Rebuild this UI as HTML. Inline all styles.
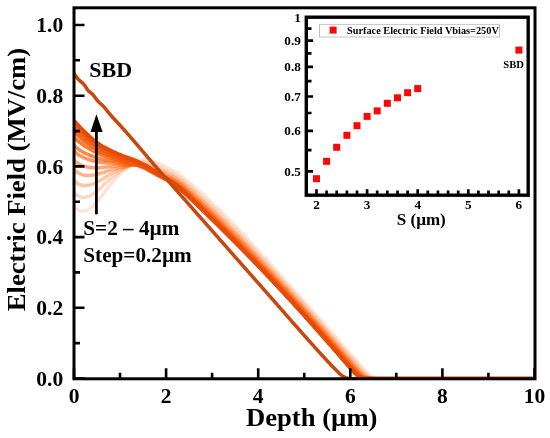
<!DOCTYPE html>
<html><head><meta charset="utf-8"><title>Electric Field vs Depth</title>
<style>html,body{margin:0;padding:0;background:#fff}svg{display:block}</style></head>
<body>
<svg width="550" height="438" viewBox="0 0 550 438">
<rect width="550" height="438" fill="#fff"/>
<defs><clipPath id="plotclip"><rect x="73" y="0" width="463" height="379.5"/></clipPath></defs>
<g fill="none" stroke-width="3.5" stroke-linejoin="round" stroke-linecap="butt" clip-path="url(#plotclip)">
<path d="M74.0,206.2 L75.0,207.3 L76.0,208.2 L77.0,209.1 L78.0,209.7 L79.0,210.3 L80.0,210.7 L81.0,211.0 L82.0,211.1 L83.0,211.1 L84.0,211.1 L85.0,210.9 L86.0,210.6 L87.0,210.1 L88.0,209.6 L89.0,209.0 L90.0,208.4 L91.0,207.6 L92.0,206.8 L93.0,206.0 L94.0,205.0 L95.0,204.0 L96.0,203.0 L97.0,201.9 L98.0,200.7 L99.0,199.5 L100.0,198.3 L101.0,197.0 L102.0,195.7 L103.0,194.4 L104.0,193.1 L105.0,191.7 L106.0,190.4 L107.0,189.1 L108.0,187.8 L109.0,186.5 L110.0,185.3 L111.0,184.1 L112.0,182.8 L113.0,181.6 L114.0,180.5 L115.0,179.3 L116.0,178.2 L117.0,177.1 L118.0,176.0 L119.0,175.0 L120.0,173.9 L121.0,173.0 L122.0,172.0 L123.0,171.1 L124.0,170.2 L125.0,169.4 L126.0,168.6 L127.0,167.8 L128.0,167.0 L129.0,166.2 L130.0,165.4 L131.0,164.7 L132.0,164.0 L133.0,163.3 L134.0,162.7 L135.0,162.1 L136.0,161.6 L137.0,161.2 L138.0,160.9 L139.0,160.5 L140.0,160.2 L141.0,160.0 L142.0,159.8 L143.0,159.7 L144.0,159.6 L145.0,159.6 L146.0,159.7 L147.0,159.8 L148.0,160.0 L149.0,160.2 L150.0,160.5 L151.0,160.7 L152.0,161.0 L153.0,161.4 L154.0,161.7 L155.0,162.1 L156.0,162.5 L157.0,162.9 L158.0,163.3 L159.0,163.7 L160.0,164.2 L161.0,164.6 L162.0,165.1 L163.0,165.6 L164.0,166.0 L165.0,166.5 L166.0,167.0 L167.0,167.5 L168.0,168.1 L169.0,168.6 L170.0,169.1 L171.0,169.7 L172.0,170.2 L173.0,170.8 L174.0,171.4 L175.0,172.0 L176.0,172.6 L177.0,173.2 L178.0,173.8 L179.0,174.5 L180.0,175.2 L181.0,175.9 L182.0,176.7 L183.0,177.5 L184.0,178.3 L185.0,179.1 L186.0,179.9 L187.0,180.7 L188.0,181.6 L189.0,182.4 L190.0,183.2 L191.0,184.0 L192.0,184.9 L193.0,185.7 L194.0,186.6 L195.0,187.5 L196.0,188.3 L197.0,189.2 L198.0,190.0 L199.0,190.9 L200.0,191.7 L201.0,192.6 L202.0,193.5 L203.0,194.3 L204.0,195.2 L205.0,196.1 L206.0,197.0 L207.0,198.0 L208.0,198.9 L209.0,199.8 L210.0,200.8 L211.0,201.8 L212.0,202.7 L213.0,203.7 L214.0,204.7 L215.0,205.7 L216.0,206.7 L217.0,207.6 L218.0,208.6 L219.0,209.6 L220.0,210.6 L221.0,211.6 L222.0,212.6 L223.0,213.6 L224.0,214.6 L225.0,215.6 L226.0,216.5 L227.0,217.5 L228.0,218.5 L229.0,219.5 L230.0,220.5 L231.0,221.5 L232.0,222.5 L233.0,223.6 L234.0,224.6 L235.0,225.6 L236.0,226.7 L237.0,227.7 L238.0,228.8 L239.0,229.8 L240.0,230.9 L241.0,232.0 L242.0,233.1 L243.0,234.1 L244.0,235.2 L245.0,236.3 L246.0,237.4 L247.0,238.5 L248.0,239.6 L249.0,240.7 L250.0,241.8 L251.0,242.9 L252.0,244.0 L253.0,245.1 L254.0,246.2 L255.0,247.3 L256.0,248.3 L257.0,249.4 L258.0,250.5 L259.0,251.6 L260.0,252.7 L261.0,253.8 L262.0,254.9 L263.0,256.0 L264.0,257.0 L265.0,258.1 L266.0,259.2 L267.0,260.3 L268.0,261.4 L269.0,262.5 L270.0,263.6 L271.0,264.7 L272.0,265.8 L273.0,266.9 L274.0,268.0 L275.0,269.1 L276.0,270.3 L277.0,271.4 L278.0,272.5 L279.0,273.6 L280.0,274.7 L281.0,275.8 L282.0,276.9 L283.0,278.0 L284.0,279.1 L285.0,280.2 L286.0,281.4 L287.0,282.5 L288.0,283.6 L289.0,284.7 L290.0,285.8 L291.0,286.9 L292.0,288.0 L293.0,289.1 L294.0,290.3 L295.0,291.4 L296.0,292.5 L297.0,293.6 L298.0,294.7 L299.0,295.8 L300.0,296.9 L301.0,298.0 L302.0,299.1 L303.0,300.2 L304.0,301.3 L305.0,302.4 L306.0,303.6 L307.0,304.7 L308.0,305.8 L309.0,306.9 L310.0,308.0 L311.0,309.1 L312.0,310.3 L313.0,311.4 L314.0,312.5 L315.0,313.6 L316.0,314.7 L317.0,315.9 L318.0,317.0 L319.0,318.1 L320.0,319.2 L321.0,320.4 L322.0,321.5 L323.0,322.6 L324.0,323.8 L325.0,324.9 L326.0,326.0 L327.0,327.2 L328.0,328.3 L329.0,329.4 L330.0,330.6 L331.0,331.7 L332.0,332.8 L333.0,334.0 L334.0,335.1 L335.0,336.3 L336.0,337.4 L337.0,338.6 L338.0,339.7 L339.0,340.8 L340.0,342.0 L341.0,343.1 L342.0,344.3 L343.0,345.4 L344.0,346.6 L345.0,347.7 L346.0,348.8 L347.0,350.0 L348.0,351.1 L349.0,352.2 L350.0,353.4 L351.0,354.5 L352.0,355.6 L353.0,356.8 L354.0,357.9 L355.0,359.0 L356.0,360.2 L357.0,361.3 L358.0,362.4 L359.0,363.6 L360.0,364.7 L361.0,365.8 L362.0,367.0 L363.0,368.1 L364.0,369.2 L365.0,370.4 L366.0,371.4 L367.0,372.5 L368.0,373.5 L369.0,374.5 L370.0,375.3 L371.0,376.1 L372.0,376.8 L373.0,377.3 L374.0,377.7 L375.0,378.0 L376.0,378.3 L377.0,378.4 L378.0,378.6 L379.0,378.6 L380.0,378.7 L381.0,378.7 L382.0,378.7 L383.0,378.8 L384.0,378.8 L385.0,378.8 L386.0,378.8 L387.0,378.8 L388.0,378.8 L389.0,378.8 L390.0,378.8 L391.0,378.8 L392.0,378.8 L393.0,378.8 L394.0,378.8 L395.0,378.8 L396.0,378.8 L397.0,378.8 L398.0,378.8 L399.0,378.8 L400.0,378.8 L401.0,378.8 L402.0,378.8 L403.0,378.8 L404.0,378.8 L405.0,378.8 L406.0,378.8 L407.0,378.8 L408.0,378.8 L409.0,378.8 L410.0,378.8 L411.0,378.8 L412.0,378.8 L413.0,378.8 L414.0,378.8 L415.0,378.8 L416.0,378.8 L417.0,378.8 L418.0,378.8 L419.0,378.8 L420.0,378.8 L421.0,378.8 L422.0,378.8 L423.0,378.8 L424.0,378.8 L425.0,378.8 L426.0,378.8 L427.0,378.8 L428.0,378.8 L429.0,378.8 L430.0,378.8 L431.0,378.8 L432.0,378.8 L433.0,378.8 L434.0,378.8 L435.0,378.8 L436.0,378.8 L437.0,378.8 L438.0,378.8 L439.0,378.8 L440.0,378.8 L441.0,378.8 L442.0,378.8 L443.0,378.8 L444.0,378.8 L445.0,378.8 L446.0,378.8 L447.0,378.8 L448.0,378.8 L449.0,378.8 L450.0,378.8 L451.0,378.8 L452.0,378.8 L453.0,378.8 L454.0,378.8 L455.0,378.8 L456.0,378.8 L457.0,378.8 L458.0,378.8 L459.0,378.8 L460.0,378.8 L461.0,378.8 L462.0,378.8 L463.0,378.8 L464.0,378.8 L465.0,378.8 L466.0,378.8 L467.0,378.8 L468.0,378.8 L469.0,378.8 L470.0,378.8 L471.0,378.8 L472.0,378.8 L473.0,378.8 L474.0,378.8 L475.0,378.8 L476.0,378.8 L477.0,378.8 L478.0,378.8 L479.0,378.8 L480.0,378.8 L481.0,378.8 L482.0,378.8 L483.0,378.8 L484.0,378.8 L485.0,378.8 L486.0,378.8 L487.0,378.8 L488.0,378.8 L489.0,378.8 L490.0,378.8 L491.0,378.8 L492.0,378.8 L493.0,378.8 L494.0,378.8 L495.0,378.8 L496.0,378.8 L497.0,378.8 L498.0,378.8 L499.0,378.8 L500.0,378.8 L501.0,378.8 L502.0,378.8 L503.0,378.8 L504.0,378.8 L505.0,378.8 L506.0,378.8 L507.0,378.8 L508.0,378.8 L509.0,378.8 L510.0,378.8 L511.0,378.8 L512.0,378.8 L513.0,378.8 L514.0,378.8 L515.0,378.8 L516.0,378.8 L517.0,378.8 L518.0,378.8 L519.0,378.8 L520.0,378.8 L521.0,378.8 L522.0,378.8 L523.0,378.8 L524.0,378.8 L525.0,378.8 L526.0,378.8 L527.0,378.8 L528.0,378.8 L529.0,378.8 L530.0,378.8 L531.0,378.8 L532.0,378.8 L533.0,378.8 L534.0,378.8 L535.0,378.8" stroke="#fd5a00" stroke-opacity="0.16"/>
<path d="M74.0,192.3 L75.0,193.4 L76.0,194.3 L77.0,195.1 L78.0,195.8 L79.0,196.3 L80.0,196.7 L81.0,197.1 L82.0,197.3 L83.0,197.4 L84.0,197.4 L85.0,197.3 L86.0,197.1 L87.0,196.8 L88.0,196.5 L89.0,196.1 L90.0,195.7 L91.0,195.2 L92.0,194.6 L93.0,194.0 L94.0,193.3 L95.0,192.7 L96.0,191.9 L97.0,191.1 L98.0,190.3 L99.0,189.5 L100.0,188.6 L101.0,187.7 L102.0,186.7 L103.0,185.8 L104.0,184.8 L105.0,183.9 L106.0,182.9 L107.0,182.0 L108.0,181.1 L109.0,180.2 L110.0,179.3 L111.0,178.4 L112.0,177.6 L113.0,176.7 L114.0,175.9 L115.0,175.1 L116.0,174.3 L117.0,173.5 L118.0,172.8 L119.0,172.1 L120.0,171.4 L121.0,170.7 L122.0,170.0 L123.0,169.4 L124.0,168.8 L125.0,168.2 L126.0,167.7 L127.0,167.1 L128.0,166.6 L129.0,166.0 L130.0,165.5 L131.0,165.0 L132.0,164.5 L133.0,164.0 L134.0,163.6 L135.0,163.3 L136.0,163.0 L137.0,162.7 L138.0,162.5 L139.0,162.3 L140.0,162.2 L141.0,162.1 L142.0,162.0 L143.0,162.0 L144.0,162.1 L145.0,162.2 L146.0,162.4 L147.0,162.6 L148.0,162.9 L149.0,163.1 L150.0,163.4 L151.0,163.8 L152.0,164.1 L153.0,164.5 L154.0,164.9 L155.0,165.3 L156.0,165.7 L157.0,166.1 L158.0,166.5 L159.0,167.0 L160.0,167.4 L161.0,167.9 L162.0,168.3 L163.0,168.8 L164.0,169.3 L165.0,169.7 L166.0,170.2 L167.0,170.7 L168.0,171.2 L169.0,171.8 L170.0,172.3 L171.0,172.8 L172.0,173.4 L173.0,174.0 L174.0,174.5 L175.0,175.1 L176.0,175.7 L177.0,176.4 L178.0,177.0 L179.0,177.7 L180.0,178.4 L181.0,179.2 L182.0,179.9 L183.0,180.7 L184.0,181.6 L185.0,182.4 L186.0,183.3 L187.0,184.1 L188.0,185.0 L189.0,185.8 L190.0,186.7 L191.0,187.5 L192.0,188.4 L193.0,189.3 L194.0,190.2 L195.0,191.0 L196.0,191.9 L197.0,192.8 L198.0,193.7 L199.0,194.6 L200.0,195.4 L201.0,196.3 L202.0,197.2 L203.0,198.1 L204.0,199.0 L205.0,199.9 L206.0,200.9 L207.0,201.8 L208.0,202.7 L209.0,203.7 L210.0,204.7 L211.0,205.6 L212.0,206.6 L213.0,207.6 L214.0,208.6 L215.0,209.5 L216.0,210.5 L217.0,211.5 L218.0,212.5 L219.0,213.5 L220.0,214.5 L221.0,215.4 L222.0,216.4 L223.0,217.4 L224.0,218.4 L225.0,219.4 L226.0,220.4 L227.0,221.4 L228.0,222.4 L229.0,223.4 L230.0,224.4 L231.0,225.4 L232.0,226.4 L233.0,227.4 L234.0,228.4 L235.0,229.5 L236.0,230.5 L237.0,231.5 L238.0,232.6 L239.0,233.6 L240.0,234.7 L241.0,235.7 L242.0,236.8 L243.0,237.9 L244.0,238.9 L245.0,240.0 L246.0,241.1 L247.0,242.2 L248.0,243.2 L249.0,244.3 L250.0,245.4 L251.0,246.5 L252.0,247.6 L253.0,248.6 L254.0,249.7 L255.0,250.8 L256.0,251.9 L257.0,253.0 L258.0,254.1 L259.0,255.1 L260.0,256.2 L261.0,257.3 L262.0,258.4 L263.0,259.4 L264.0,260.5 L265.0,261.6 L266.0,262.7 L267.0,263.8 L268.0,264.9 L269.0,265.9 L270.0,267.0 L271.0,268.1 L272.0,269.2 L273.0,270.3 L274.0,271.4 L275.0,272.5 L276.0,273.6 L277.0,274.7 L278.0,275.8 L279.0,276.9 L280.0,278.0 L281.0,279.1 L282.0,280.2 L283.0,281.3 L284.0,282.4 L285.0,283.5 L286.0,284.6 L287.0,285.7 L288.0,286.8 L289.0,288.0 L290.0,289.1 L291.0,290.2 L292.0,291.3 L293.0,292.4 L294.0,293.5 L295.0,294.6 L296.0,295.7 L297.0,296.8 L298.0,297.9 L299.0,299.0 L300.0,300.1 L301.0,301.2 L302.0,302.3 L303.0,303.4 L304.0,304.6 L305.0,305.7 L306.0,306.8 L307.0,307.9 L308.0,309.0 L309.0,310.1 L310.0,311.2 L311.0,312.4 L312.0,313.5 L313.0,314.6 L314.0,315.7 L315.0,316.9 L316.0,318.0 L317.0,319.1 L318.0,320.2 L319.0,321.4 L320.0,322.5 L321.0,323.6 L322.0,324.7 L323.0,325.9 L324.0,327.0 L325.0,328.1 L326.0,329.3 L327.0,330.4 L328.0,331.5 L329.0,332.7 L330.0,333.8 L331.0,335.0 L332.0,336.1 L333.0,337.2 L334.0,338.4 L335.0,339.5 L336.0,340.7 L337.0,341.8 L338.0,343.0 L339.0,344.1 L340.0,345.3 L341.0,346.4 L342.0,347.6 L343.0,348.7 L344.0,349.9 L345.0,351.0 L346.0,352.2 L347.0,353.3 L348.0,354.4 L349.0,355.6 L350.0,356.7 L351.0,357.9 L352.0,359.0 L353.0,360.1 L354.0,361.3 L355.0,362.4 L356.0,363.6 L357.0,364.7 L358.0,365.8 L359.0,367.0 L360.0,368.1 L361.0,369.2 L362.0,370.3 L363.0,371.4 L364.0,372.5 L365.0,373.5 L366.0,374.4 L367.0,375.3 L368.0,376.1 L369.0,376.7 L370.0,377.3 L371.0,377.7 L372.0,378.0 L373.0,378.2 L374.0,378.4 L375.0,378.5 L376.0,378.6 L377.0,378.7 L378.0,378.7 L379.0,378.7 L380.0,378.8 L381.0,378.8 L382.0,378.8 L383.0,378.8 L384.0,378.8 L385.0,378.8 L386.0,378.8 L387.0,378.8 L388.0,378.8 L389.0,378.8 L390.0,378.8 L391.0,378.8 L392.0,378.8 L393.0,378.8 L394.0,378.8 L395.0,378.8 L396.0,378.8 L397.0,378.8 L398.0,378.8 L399.0,378.8 L400.0,378.8 L401.0,378.8 L402.0,378.8 L403.0,378.8 L404.0,378.8 L405.0,378.8 L406.0,378.8 L407.0,378.8 L408.0,378.8 L409.0,378.8 L410.0,378.8 L411.0,378.8 L412.0,378.8 L413.0,378.8 L414.0,378.8 L415.0,378.8 L416.0,378.8 L417.0,378.8 L418.0,378.8 L419.0,378.8 L420.0,378.8 L421.0,378.8 L422.0,378.8 L423.0,378.8 L424.0,378.8 L425.0,378.8 L426.0,378.8 L427.0,378.8 L428.0,378.8 L429.0,378.8 L430.0,378.8 L431.0,378.8 L432.0,378.8 L433.0,378.8 L434.0,378.8 L435.0,378.8 L436.0,378.8 L437.0,378.8 L438.0,378.8 L439.0,378.8 L440.0,378.8 L441.0,378.8 L442.0,378.8 L443.0,378.8 L444.0,378.8 L445.0,378.8 L446.0,378.8 L447.0,378.8 L448.0,378.8 L449.0,378.8 L450.0,378.8 L451.0,378.8 L452.0,378.8 L453.0,378.8 L454.0,378.8 L455.0,378.8 L456.0,378.8 L457.0,378.8 L458.0,378.8 L459.0,378.8 L460.0,378.8 L461.0,378.8 L462.0,378.8 L463.0,378.8 L464.0,378.8 L465.0,378.8 L466.0,378.8 L467.0,378.8 L468.0,378.8 L469.0,378.8 L470.0,378.8 L471.0,378.8 L472.0,378.8 L473.0,378.8 L474.0,378.8 L475.0,378.8 L476.0,378.8 L477.0,378.8 L478.0,378.8 L479.0,378.8 L480.0,378.8 L481.0,378.8 L482.0,378.8 L483.0,378.8 L484.0,378.8 L485.0,378.8 L486.0,378.8 L487.0,378.8 L488.0,378.8 L489.0,378.8 L490.0,378.8 L491.0,378.8 L492.0,378.8 L493.0,378.8 L494.0,378.8 L495.0,378.8 L496.0,378.8 L497.0,378.8 L498.0,378.8 L499.0,378.8 L500.0,378.8 L501.0,378.8 L502.0,378.8 L503.0,378.8 L504.0,378.8 L505.0,378.8 L506.0,378.8 L507.0,378.8 L508.0,378.8 L509.0,378.8 L510.0,378.8 L511.0,378.8 L512.0,378.8 L513.0,378.8 L514.0,378.8 L515.0,378.8 L516.0,378.8 L517.0,378.8 L518.0,378.8 L519.0,378.8 L520.0,378.8 L521.0,378.8 L522.0,378.8 L523.0,378.8 L524.0,378.8 L525.0,378.8 L526.0,378.8 L527.0,378.8 L528.0,378.8 L529.0,378.8 L530.0,378.8 L531.0,378.8 L532.0,378.8 L533.0,378.8 L534.0,378.8 L535.0,378.8" stroke="#fd5a00" stroke-opacity="0.25"/>
<path d="M74.0,180.3 L75.0,181.4 L76.0,182.3 L77.0,183.0 L78.0,183.7 L79.0,184.3 L80.0,184.7 L81.0,185.1 L82.0,185.3 L83.0,185.5 L84.0,185.6 L85.0,185.7 L86.0,185.6 L87.0,185.5 L88.0,185.3 L89.0,185.1 L90.0,184.9 L91.0,184.6 L92.0,184.3 L93.0,183.9 L94.0,183.5 L95.0,183.1 L96.0,182.6 L97.0,182.2 L98.0,181.6 L99.0,181.1 L100.0,180.5 L101.0,179.9 L102.0,179.3 L103.0,178.7 L104.0,178.0 L105.0,177.4 L106.0,176.8 L107.0,176.2 L108.0,175.6 L109.0,175.0 L110.0,174.4 L111.0,173.8 L112.0,173.3 L113.0,172.7 L114.0,172.2 L115.0,171.6 L116.0,171.1 L117.0,170.6 L118.0,170.2 L119.0,169.7 L120.0,169.3 L121.0,168.8 L122.0,168.4 L123.0,168.0 L124.0,167.6 L125.0,167.2 L126.0,166.9 L127.0,166.5 L128.0,166.2 L129.0,165.8 L130.0,165.5 L131.0,165.2 L132.0,164.9 L133.0,164.6 L134.0,164.4 L135.0,164.2 L136.0,164.0 L137.0,163.9 L138.0,163.8 L139.0,163.8 L140.0,163.8 L141.0,163.8 L142.0,163.9 L143.0,164.0 L144.0,164.1 L145.0,164.4 L146.0,164.6 L147.0,164.9 L148.0,165.2 L149.0,165.5 L150.0,165.9 L151.0,166.3 L152.0,166.6 L153.0,167.0 L154.0,167.4 L155.0,167.9 L156.0,168.3 L157.0,168.7 L158.0,169.2 L159.0,169.6 L160.0,170.1 L161.0,170.5 L162.0,171.0 L163.0,171.4 L164.0,171.9 L165.0,172.3 L166.0,172.8 L167.0,173.3 L168.0,173.8 L169.0,174.3 L170.0,174.8 L171.0,175.4 L172.0,175.9 L173.0,176.5 L174.0,177.0 L175.0,177.6 L176.0,178.2 L177.0,178.9 L178.0,179.5 L179.0,180.2 L180.0,181.0 L181.0,181.7 L182.0,182.5 L183.0,183.3 L184.0,184.2 L185.0,185.0 L186.0,185.9 L187.0,186.8 L188.0,187.7 L189.0,188.5 L190.0,189.4 L191.0,190.3 L192.0,191.2 L193.0,192.1 L194.0,193.0 L195.0,193.9 L196.0,194.8 L197.0,195.7 L198.0,196.6 L199.0,197.5 L200.0,198.4 L201.0,199.3 L202.0,200.2 L203.0,201.1 L204.0,202.0 L205.0,203.0 L206.0,203.9 L207.0,204.8 L208.0,205.8 L209.0,206.7 L210.0,207.7 L211.0,208.7 L212.0,209.7 L213.0,210.6 L214.0,211.6 L215.0,212.6 L216.0,213.6 L217.0,214.5 L218.0,215.5 L219.0,216.5 L220.0,217.5 L221.0,218.5 L222.0,219.5 L223.0,220.5 L224.0,221.5 L225.0,222.5 L226.0,223.4 L227.0,224.4 L228.0,225.4 L229.0,226.4 L230.0,227.4 L231.0,228.4 L232.0,229.4 L233.0,230.5 L234.0,231.5 L235.0,232.5 L236.0,233.5 L237.0,234.6 L238.0,235.6 L239.0,236.6 L240.0,237.7 L241.0,238.7 L242.0,239.8 L243.0,240.8 L244.0,241.9 L245.0,243.0 L246.0,244.0 L247.0,245.1 L248.0,246.1 L249.0,247.2 L250.0,248.3 L251.0,249.3 L252.0,250.4 L253.0,251.5 L254.0,252.6 L255.0,253.6 L256.0,254.7 L257.0,255.8 L258.0,256.8 L259.0,257.9 L260.0,259.0 L261.0,260.0 L262.0,261.1 L263.0,262.2 L264.0,263.3 L265.0,264.3 L266.0,265.4 L267.0,266.5 L268.0,267.6 L269.0,268.7 L270.0,269.7 L271.0,270.8 L272.0,271.9 L273.0,273.0 L274.0,274.1 L275.0,275.2 L276.0,276.3 L277.0,277.4 L278.0,278.4 L279.0,279.5 L280.0,280.6 L281.0,281.7 L282.0,282.8 L283.0,283.9 L284.0,285.0 L285.0,286.1 L286.0,287.2 L287.0,288.3 L288.0,289.4 L289.0,290.5 L290.0,291.6 L291.0,292.7 L292.0,293.8 L293.0,294.9 L294.0,296.0 L295.0,297.2 L296.0,298.3 L297.0,299.4 L298.0,300.5 L299.0,301.6 L300.0,302.7 L301.0,303.8 L302.0,304.9 L303.0,306.0 L304.0,307.1 L305.0,308.2 L306.0,309.3 L307.0,310.4 L308.0,311.6 L309.0,312.7 L310.0,313.8 L311.0,314.9 L312.0,316.0 L313.0,317.2 L314.0,318.3 L315.0,319.4 L316.0,320.5 L317.0,321.7 L318.0,322.8 L319.0,323.9 L320.0,325.0 L321.0,326.2 L322.0,327.3 L323.0,328.4 L324.0,329.6 L325.0,330.7 L326.0,331.8 L327.0,333.0 L328.0,334.1 L329.0,335.2 L330.0,336.4 L331.0,337.5 L332.0,338.7 L333.0,339.8 L334.0,341.0 L335.0,342.1 L336.0,343.3 L337.0,344.4 L338.0,345.6 L339.0,346.7 L340.0,347.9 L341.0,349.0 L342.0,350.2 L343.0,351.3 L344.0,352.5 L345.0,353.6 L346.0,354.8 L347.0,355.9 L348.0,357.1 L349.0,358.2 L350.0,359.4 L351.0,360.5 L352.0,361.6 L353.0,362.8 L354.0,363.9 L355.0,365.1 L356.0,366.2 L357.0,367.4 L358.0,368.5 L359.0,369.6 L360.0,370.7 L361.0,371.8 L362.0,372.8 L363.0,373.8 L364.0,374.7 L365.0,375.5 L366.0,376.3 L367.0,376.9 L368.0,377.4 L369.0,377.8 L370.0,378.1 L371.0,378.3 L372.0,378.5 L373.0,378.6 L374.0,378.6 L375.0,378.7 L376.0,378.7 L377.0,378.8 L378.0,378.8 L379.0,378.8 L380.0,378.8 L381.0,378.8 L382.0,378.8 L383.0,378.8 L384.0,378.8 L385.0,378.8 L386.0,378.8 L387.0,378.8 L388.0,378.8 L389.0,378.8 L390.0,378.8 L391.0,378.8 L392.0,378.8 L393.0,378.8 L394.0,378.8 L395.0,378.8 L396.0,378.8 L397.0,378.8 L398.0,378.8 L399.0,378.8 L400.0,378.8 L401.0,378.8 L402.0,378.8 L403.0,378.8 L404.0,378.8 L405.0,378.8 L406.0,378.8 L407.0,378.8 L408.0,378.8 L409.0,378.8 L410.0,378.8 L411.0,378.8 L412.0,378.8 L413.0,378.8 L414.0,378.8 L415.0,378.8 L416.0,378.8 L417.0,378.8 L418.0,378.8 L419.0,378.8 L420.0,378.8 L421.0,378.8 L422.0,378.8 L423.0,378.8 L424.0,378.8 L425.0,378.8 L426.0,378.8 L427.0,378.8 L428.0,378.8 L429.0,378.8 L430.0,378.8 L431.0,378.8 L432.0,378.8 L433.0,378.8 L434.0,378.8 L435.0,378.8 L436.0,378.8 L437.0,378.8 L438.0,378.8 L439.0,378.8 L440.0,378.8 L441.0,378.8 L442.0,378.8 L443.0,378.8 L444.0,378.8 L445.0,378.8 L446.0,378.8 L447.0,378.8 L448.0,378.8 L449.0,378.8 L450.0,378.8 L451.0,378.8 L452.0,378.8 L453.0,378.8 L454.0,378.8 L455.0,378.8 L456.0,378.8 L457.0,378.8 L458.0,378.8 L459.0,378.8 L460.0,378.8 L461.0,378.8 L462.0,378.8 L463.0,378.8 L464.0,378.8 L465.0,378.8 L466.0,378.8 L467.0,378.8 L468.0,378.8 L469.0,378.8 L470.0,378.8 L471.0,378.8 L472.0,378.8 L473.0,378.8 L474.0,378.8 L475.0,378.8 L476.0,378.8 L477.0,378.8 L478.0,378.8 L479.0,378.8 L480.0,378.8 L481.0,378.8 L482.0,378.8 L483.0,378.8 L484.0,378.8 L485.0,378.8 L486.0,378.8 L487.0,378.8 L488.0,378.8 L489.0,378.8 L490.0,378.8 L491.0,378.8 L492.0,378.8 L493.0,378.8 L494.0,378.8 L495.0,378.8 L496.0,378.8 L497.0,378.8 L498.0,378.8 L499.0,378.8 L500.0,378.8 L501.0,378.8 L502.0,378.8 L503.0,378.8 L504.0,378.8 L505.0,378.8 L506.0,378.8 L507.0,378.8 L508.0,378.8 L509.0,378.8 L510.0,378.8 L511.0,378.8 L512.0,378.8 L513.0,378.8 L514.0,378.8 L515.0,378.8 L516.0,378.8 L517.0,378.8 L518.0,378.8 L519.0,378.8 L520.0,378.8 L521.0,378.8 L522.0,378.8 L523.0,378.8 L524.0,378.8 L525.0,378.8 L526.0,378.8 L527.0,378.8 L528.0,378.8 L529.0,378.8 L530.0,378.8 L531.0,378.8 L532.0,378.8 L533.0,378.8 L534.0,378.8 L535.0,378.8" stroke="#fd5a00" stroke-opacity="0.35"/>
<path d="M74.0,169.4 L75.0,170.4 L76.0,171.3 L77.0,172.1 L78.0,172.7 L79.0,173.3 L80.0,173.8 L81.0,174.2 L82.0,174.6 L83.0,174.9 L84.0,175.1 L85.0,175.2 L86.0,175.3 L87.0,175.4 L88.0,175.4 L89.0,175.4 L90.0,175.3 L91.0,175.3 L92.0,175.2 L93.0,175.1 L94.0,174.9 L95.0,174.7 L96.0,174.6 L97.0,174.3 L98.0,174.1 L99.0,173.8 L100.0,173.5 L101.0,173.2 L102.0,172.9 L103.0,172.5 L104.0,172.2 L105.0,171.8 L106.0,171.5 L107.0,171.1 L108.0,170.8 L109.0,170.5 L110.0,170.2 L111.0,169.8 L112.0,169.5 L113.0,169.2 L114.0,168.9 L115.0,168.6 L116.0,168.4 L117.0,168.1 L118.0,167.9 L119.0,167.6 L120.0,167.4 L121.0,167.2 L122.0,166.9 L123.0,166.7 L124.0,166.5 L125.0,166.3 L126.0,166.2 L127.0,166.0 L128.0,165.8 L129.0,165.6 L130.0,165.4 L131.0,165.3 L132.0,165.1 L133.0,165.0 L134.0,164.9 L135.0,164.9 L136.0,164.9 L137.0,164.9 L138.0,164.9 L139.0,165.0 L140.0,165.1 L141.0,165.2 L142.0,165.4 L143.0,165.6 L144.0,165.9 L145.0,166.1 L146.0,166.5 L147.0,166.8 L148.0,167.2 L149.0,167.5 L150.0,168.0 L151.0,168.4 L152.0,168.8 L153.0,169.2 L154.0,169.7 L155.0,170.1 L156.0,170.5 L157.0,171.0 L158.0,171.4 L159.0,171.9 L160.0,172.3 L161.0,172.7 L162.0,173.2 L163.0,173.6 L164.0,174.1 L165.0,174.6 L166.0,175.0 L167.0,175.5 L168.0,176.0 L169.0,176.5 L170.0,177.0 L171.0,177.5 L172.0,178.0 L173.0,178.6 L174.0,179.2 L175.0,179.7 L176.0,180.4 L177.0,181.0 L178.0,181.6 L179.0,182.3 L180.0,183.1 L181.0,183.8 L182.0,184.6 L183.0,185.5 L184.0,186.3 L185.0,187.2 L186.0,188.1 L187.0,189.0 L188.0,189.9 L189.0,190.8 L190.0,191.7 L191.0,192.6 L192.0,193.5 L193.0,194.4 L194.0,195.3 L195.0,196.2 L196.0,197.1 L197.0,198.1 L198.0,199.0 L199.0,199.9 L200.0,200.8 L201.0,201.7 L202.0,202.7 L203.0,203.6 L204.0,204.5 L205.0,205.5 L206.0,206.4 L207.0,207.3 L208.0,208.3 L209.0,209.3 L210.0,210.2 L211.0,211.2 L212.0,212.2 L213.0,213.2 L214.0,214.1 L215.0,215.1 L216.0,216.1 L217.0,217.1 L218.0,218.1 L219.0,219.0 L220.0,220.0 L221.0,221.0 L222.0,222.0 L223.0,223.0 L224.0,224.0 L225.0,225.0 L226.0,226.0 L227.0,227.0 L228.0,228.0 L229.0,229.0 L230.0,230.0 L231.0,231.0 L232.0,232.0 L233.0,233.0 L234.0,234.0 L235.0,235.0 L236.0,236.0 L237.0,237.1 L238.0,238.1 L239.0,239.1 L240.0,240.2 L241.0,241.2 L242.0,242.2 L243.0,243.3 L244.0,244.3 L245.0,245.4 L246.0,246.4 L247.0,247.5 L248.0,248.5 L249.0,249.6 L250.0,250.7 L251.0,251.7 L252.0,252.8 L253.0,253.8 L254.0,254.9 L255.0,256.0 L256.0,257.0 L257.0,258.1 L258.0,259.1 L259.0,260.2 L260.0,261.3 L261.0,262.3 L262.0,263.4 L263.0,264.5 L264.0,265.5 L265.0,266.6 L266.0,267.7 L267.0,268.7 L268.0,269.8 L269.0,270.9 L270.0,272.0 L271.0,273.0 L272.0,274.1 L273.0,275.2 L274.0,276.3 L275.0,277.4 L276.0,278.5 L277.0,279.5 L278.0,280.6 L279.0,281.7 L280.0,282.8 L281.0,283.9 L282.0,285.0 L283.0,286.1 L284.0,287.2 L285.0,288.3 L286.0,289.4 L287.0,290.5 L288.0,291.6 L289.0,292.7 L290.0,293.8 L291.0,294.9 L292.0,296.0 L293.0,297.1 L294.0,298.2 L295.0,299.3 L296.0,300.4 L297.0,301.5 L298.0,302.6 L299.0,303.7 L300.0,304.8 L301.0,305.9 L302.0,307.0 L303.0,308.1 L304.0,309.2 L305.0,310.3 L306.0,311.4 L307.0,312.6 L308.0,313.7 L309.0,314.8 L310.0,315.9 L311.0,317.0 L312.0,318.2 L313.0,319.3 L314.0,320.4 L315.0,321.5 L316.0,322.6 L317.0,323.8 L318.0,324.9 L319.0,326.0 L320.0,327.2 L321.0,328.3 L322.0,329.4 L323.0,330.6 L324.0,331.7 L325.0,332.8 L326.0,334.0 L327.0,335.1 L328.0,336.2 L329.0,337.4 L330.0,338.5 L331.0,339.7 L332.0,340.8 L333.0,341.9 L334.0,343.1 L335.0,344.2 L336.0,345.4 L337.0,346.5 L338.0,347.7 L339.0,348.8 L340.0,350.0 L341.0,351.2 L342.0,352.3 L343.0,353.5 L344.0,354.6 L345.0,355.8 L346.0,356.9 L347.0,358.1 L348.0,359.2 L349.0,360.4 L350.0,361.5 L351.0,362.7 L352.0,363.8 L353.0,365.0 L354.0,366.1 L355.0,367.3 L356.0,368.4 L357.0,369.5 L358.0,370.6 L359.0,371.7 L360.0,372.7 L361.0,373.7 L362.0,374.7 L363.0,375.5 L364.0,376.2 L365.0,376.9 L366.0,377.4 L367.0,377.8 L368.0,378.1 L369.0,378.3 L370.0,378.4 L371.0,378.6 L372.0,378.6 L373.0,378.7 L374.0,378.7 L375.0,378.8 L376.0,378.8 L377.0,378.8 L378.0,378.8 L379.0,378.8 L380.0,378.8 L381.0,378.8 L382.0,378.8 L383.0,378.8 L384.0,378.8 L385.0,378.8 L386.0,378.8 L387.0,378.8 L388.0,378.8 L389.0,378.8 L390.0,378.8 L391.0,378.8 L392.0,378.8 L393.0,378.8 L394.0,378.8 L395.0,378.8 L396.0,378.8 L397.0,378.8 L398.0,378.8 L399.0,378.8 L400.0,378.8 L401.0,378.8 L402.0,378.8 L403.0,378.8 L404.0,378.8 L405.0,378.8 L406.0,378.8 L407.0,378.8 L408.0,378.8 L409.0,378.8 L410.0,378.8 L411.0,378.8 L412.0,378.8 L413.0,378.8 L414.0,378.8 L415.0,378.8 L416.0,378.8 L417.0,378.8 L418.0,378.8 L419.0,378.8 L420.0,378.8 L421.0,378.8 L422.0,378.8 L423.0,378.8 L424.0,378.8 L425.0,378.8 L426.0,378.8 L427.0,378.8 L428.0,378.8 L429.0,378.8 L430.0,378.8 L431.0,378.8 L432.0,378.8 L433.0,378.8 L434.0,378.8 L435.0,378.8 L436.0,378.8 L437.0,378.8 L438.0,378.8 L439.0,378.8 L440.0,378.8 L441.0,378.8 L442.0,378.8 L443.0,378.8 L444.0,378.8 L445.0,378.8 L446.0,378.8 L447.0,378.8 L448.0,378.8 L449.0,378.8 L450.0,378.8 L451.0,378.8 L452.0,378.8 L453.0,378.8 L454.0,378.8 L455.0,378.8 L456.0,378.8 L457.0,378.8 L458.0,378.8 L459.0,378.8 L460.0,378.8 L461.0,378.8 L462.0,378.8 L463.0,378.8 L464.0,378.8 L465.0,378.8 L466.0,378.8 L467.0,378.8 L468.0,378.8 L469.0,378.8 L470.0,378.8 L471.0,378.8 L472.0,378.8 L473.0,378.8 L474.0,378.8 L475.0,378.8 L476.0,378.8 L477.0,378.8 L478.0,378.8 L479.0,378.8 L480.0,378.8 L481.0,378.8 L482.0,378.8 L483.0,378.8 L484.0,378.8 L485.0,378.8 L486.0,378.8 L487.0,378.8 L488.0,378.8 L489.0,378.8 L490.0,378.8 L491.0,378.8 L492.0,378.8 L493.0,378.8 L494.0,378.8 L495.0,378.8 L496.0,378.8 L497.0,378.8 L498.0,378.8 L499.0,378.8 L500.0,378.8 L501.0,378.8 L502.0,378.8 L503.0,378.8 L504.0,378.8 L505.0,378.8 L506.0,378.8 L507.0,378.8 L508.0,378.8 L509.0,378.8 L510.0,378.8 L511.0,378.8 L512.0,378.8 L513.0,378.8 L514.0,378.8 L515.0,378.8 L516.0,378.8 L517.0,378.8 L518.0,378.8 L519.0,378.8 L520.0,378.8 L521.0,378.8 L522.0,378.8 L523.0,378.8 L524.0,378.8 L525.0,378.8 L526.0,378.8 L527.0,378.8 L528.0,378.8 L529.0,378.8 L530.0,378.8 L531.0,378.8 L532.0,378.8 L533.0,378.8 L534.0,378.8 L535.0,378.8" stroke="#fd5a00" stroke-opacity="0.45"/>
<path d="M74.0,160.2 L75.0,161.2 L76.0,162.1 L77.0,162.8 L78.0,163.5 L79.0,164.1 L80.0,164.7 L81.0,165.2 L82.0,165.6 L83.0,165.9 L84.0,166.3 L85.0,166.5 L86.0,166.8 L87.0,167.0 L88.0,167.1 L89.0,167.3 L90.0,167.4 L91.0,167.5 L92.0,167.6 L93.0,167.7 L94.0,167.8 L95.0,167.8 L96.0,167.8 L97.0,167.8 L98.0,167.8 L99.0,167.8 L100.0,167.7 L101.0,167.6 L102.0,167.5 L103.0,167.4 L104.0,167.2 L105.0,167.1 L106.0,167.0 L107.0,166.9 L108.0,166.7 L109.0,166.6 L110.0,166.5 L111.0,166.4 L112.0,166.2 L113.0,166.1 L114.0,166.0 L115.0,165.9 L116.0,165.8 L117.0,165.7 L118.0,165.7 L119.0,165.6 L120.0,165.5 L121.0,165.4 L122.0,165.4 L123.0,165.3 L124.0,165.2 L125.0,165.2 L126.0,165.1 L127.0,165.1 L128.0,165.0 L129.0,165.0 L130.0,164.9 L131.0,164.9 L132.0,164.9 L133.0,164.9 L134.0,164.9 L135.0,165.0 L136.0,165.1 L137.0,165.2 L138.0,165.3 L139.0,165.5 L140.0,165.7 L141.0,165.9 L142.0,166.2 L143.0,166.4 L144.0,166.7 L145.0,167.1 L146.0,167.5 L147.0,167.8 L148.0,168.3 L149.0,168.7 L150.0,169.1 L151.0,169.6 L152.0,170.0 L153.0,170.5 L154.0,171.0 L155.0,171.4 L156.0,171.9 L157.0,172.3 L158.0,172.8 L159.0,173.3 L160.0,173.7 L161.0,174.2 L162.0,174.6 L163.0,175.1 L164.0,175.5 L165.0,176.0 L166.0,176.5 L167.0,177.0 L168.0,177.5 L169.0,178.0 L170.0,178.5 L171.0,179.0 L172.0,179.5 L173.0,180.1 L174.0,180.7 L175.0,181.3 L176.0,181.9 L177.0,182.5 L178.0,183.2 L179.0,183.9 L180.0,184.7 L181.0,185.4 L182.0,186.3 L183.0,187.1 L184.0,188.0 L185.0,188.9 L186.0,189.8 L187.0,190.7 L188.0,191.6 L189.0,192.5 L190.0,193.4 L191.0,194.3 L192.0,195.2 L193.0,196.2 L194.0,197.1 L195.0,198.0 L196.0,198.9 L197.0,199.9 L198.0,200.8 L199.0,201.7 L200.0,202.7 L201.0,203.6 L202.0,204.5 L203.0,205.5 L204.0,206.4 L205.0,207.3 L206.0,208.3 L207.0,209.2 L208.0,210.2 L209.0,211.2 L210.0,212.1 L211.0,213.1 L212.0,214.1 L213.0,215.1 L214.0,216.0 L215.0,217.0 L216.0,218.0 L217.0,219.0 L218.0,220.0 L219.0,221.0 L220.0,221.9 L221.0,222.9 L222.0,223.9 L223.0,224.9 L224.0,225.9 L225.0,226.9 L226.0,227.9 L227.0,228.9 L228.0,229.9 L229.0,230.9 L230.0,231.9 L231.0,232.9 L232.0,233.9 L233.0,234.9 L234.0,235.9 L235.0,236.9 L236.0,237.9 L237.0,239.0 L238.0,240.0 L239.0,241.0 L240.0,242.0 L241.0,243.1 L242.0,244.1 L243.0,245.1 L244.0,246.2 L245.0,247.2 L246.0,248.3 L247.0,249.3 L248.0,250.4 L249.0,251.4 L250.0,252.5 L251.0,253.5 L252.0,254.6 L253.0,255.6 L254.0,256.7 L255.0,257.7 L256.0,258.8 L257.0,259.8 L258.0,260.9 L259.0,261.9 L260.0,263.0 L261.0,264.1 L262.0,265.1 L263.0,266.2 L264.0,267.2 L265.0,268.3 L266.0,269.4 L267.0,270.4 L268.0,271.5 L269.0,272.6 L270.0,273.7 L271.0,274.7 L272.0,275.8 L273.0,276.9 L274.0,278.0 L275.0,279.0 L276.0,280.1 L277.0,281.2 L278.0,282.3 L279.0,283.4 L280.0,284.5 L281.0,285.5 L282.0,286.6 L283.0,287.7 L284.0,288.8 L285.0,289.9 L286.0,291.0 L287.0,292.1 L288.0,293.2 L289.0,294.3 L290.0,295.4 L291.0,296.5 L292.0,297.6 L293.0,298.7 L294.0,299.8 L295.0,300.9 L296.0,302.0 L297.0,303.1 L298.0,304.2 L299.0,305.3 L300.0,306.4 L301.0,307.5 L302.0,308.6 L303.0,309.7 L304.0,310.8 L305.0,311.9 L306.0,313.0 L307.0,314.2 L308.0,315.3 L309.0,316.4 L310.0,317.5 L311.0,318.6 L312.0,319.8 L313.0,320.9 L314.0,322.0 L315.0,323.1 L316.0,324.2 L317.0,325.4 L318.0,326.5 L319.0,327.6 L320.0,328.8 L321.0,329.9 L322.0,331.0 L323.0,332.2 L324.0,333.3 L325.0,334.4 L326.0,335.6 L327.0,336.7 L328.0,337.8 L329.0,339.0 L330.0,340.1 L331.0,341.3 L332.0,342.4 L333.0,343.6 L334.0,344.7 L335.0,345.9 L336.0,347.0 L337.0,348.2 L338.0,349.3 L339.0,350.5 L340.0,351.6 L341.0,352.8 L342.0,353.9 L343.0,355.1 L344.0,356.2 L345.0,357.4 L346.0,358.6 L347.0,359.7 L348.0,360.9 L349.0,362.0 L350.0,363.2 L351.0,364.3 L352.0,365.5 L353.0,366.6 L354.0,367.8 L355.0,368.9 L356.0,370.0 L357.0,371.1 L358.0,372.2 L359.0,373.2 L360.0,374.2 L361.0,375.0 L362.0,375.8 L363.0,376.5 L364.0,377.1 L365.0,377.6 L366.0,377.9 L367.0,378.2 L368.0,378.4 L369.0,378.5 L370.0,378.6 L371.0,378.7 L372.0,378.7 L373.0,378.7 L374.0,378.8 L375.0,378.8 L376.0,378.8 L377.0,378.8 L378.0,378.8 L379.0,378.8 L380.0,378.8 L381.0,378.8 L382.0,378.8 L383.0,378.8 L384.0,378.8 L385.0,378.8 L386.0,378.8 L387.0,378.8 L388.0,378.8 L389.0,378.8 L390.0,378.8 L391.0,378.8 L392.0,378.8 L393.0,378.8 L394.0,378.8 L395.0,378.8 L396.0,378.8 L397.0,378.8 L398.0,378.8 L399.0,378.8 L400.0,378.8 L401.0,378.8 L402.0,378.8 L403.0,378.8 L404.0,378.8 L405.0,378.8 L406.0,378.8 L407.0,378.8 L408.0,378.8 L409.0,378.8 L410.0,378.8 L411.0,378.8 L412.0,378.8 L413.0,378.8 L414.0,378.8 L415.0,378.8 L416.0,378.8 L417.0,378.8 L418.0,378.8 L419.0,378.8 L420.0,378.8 L421.0,378.8 L422.0,378.8 L423.0,378.8 L424.0,378.8 L425.0,378.8 L426.0,378.8 L427.0,378.8 L428.0,378.8 L429.0,378.8 L430.0,378.8 L431.0,378.8 L432.0,378.8 L433.0,378.8 L434.0,378.8 L435.0,378.8 L436.0,378.8 L437.0,378.8 L438.0,378.8 L439.0,378.8 L440.0,378.8 L441.0,378.8 L442.0,378.8 L443.0,378.8 L444.0,378.8 L445.0,378.8 L446.0,378.8 L447.0,378.8 L448.0,378.8 L449.0,378.8 L450.0,378.8 L451.0,378.8 L452.0,378.8 L453.0,378.8 L454.0,378.8 L455.0,378.8 L456.0,378.8 L457.0,378.8 L458.0,378.8 L459.0,378.8 L460.0,378.8 L461.0,378.8 L462.0,378.8 L463.0,378.8 L464.0,378.8 L465.0,378.8 L466.0,378.8 L467.0,378.8 L468.0,378.8 L469.0,378.8 L470.0,378.8 L471.0,378.8 L472.0,378.8 L473.0,378.8 L474.0,378.8 L475.0,378.8 L476.0,378.8 L477.0,378.8 L478.0,378.8 L479.0,378.8 L480.0,378.8 L481.0,378.8 L482.0,378.8 L483.0,378.8 L484.0,378.8 L485.0,378.8 L486.0,378.8 L487.0,378.8 L488.0,378.8 L489.0,378.8 L490.0,378.8 L491.0,378.8 L492.0,378.8 L493.0,378.8 L494.0,378.8 L495.0,378.8 L496.0,378.8 L497.0,378.8 L498.0,378.8 L499.0,378.8 L500.0,378.8 L501.0,378.8 L502.0,378.8 L503.0,378.8 L504.0,378.8 L505.0,378.8 L506.0,378.8 L507.0,378.8 L508.0,378.8 L509.0,378.8 L510.0,378.8 L511.0,378.8 L512.0,378.8 L513.0,378.8 L514.0,378.8 L515.0,378.8 L516.0,378.8 L517.0,378.8 L518.0,378.8 L519.0,378.8 L520.0,378.8 L521.0,378.8 L522.0,378.8 L523.0,378.8 L524.0,378.8 L525.0,378.8 L526.0,378.8 L527.0,378.8 L528.0,378.8 L529.0,378.8 L530.0,378.8 L531.0,378.8 L532.0,378.8 L533.0,378.8 L534.0,378.8 L535.0,378.8" stroke="#fd5a00" stroke-opacity="0.54"/>
<path d="M74.0,151.0 L75.0,152.0 L76.0,152.9 L77.0,153.7 L78.0,154.4 L79.0,155.1 L80.0,155.7 L81.0,156.2 L82.0,156.8 L83.0,157.3 L84.0,157.7 L85.0,158.1 L86.0,158.5 L87.0,158.9 L88.0,159.2 L89.0,159.5 L90.0,159.9 L91.0,160.2 L92.0,160.5 L93.0,160.8 L94.0,161.0 L95.0,161.3 L96.0,161.5 L97.0,161.7 L98.0,161.9 L99.0,162.1 L100.0,162.2 L101.0,162.3 L102.0,162.4 L103.0,162.5 L104.0,162.6 L105.0,162.7 L106.0,162.7 L107.0,162.8 L108.0,162.9 L109.0,162.9 L110.0,163.0 L111.0,163.0 L112.0,163.1 L113.0,163.2 L114.0,163.2 L115.0,163.3 L116.0,163.3 L117.0,163.4 L118.0,163.5 L119.0,163.6 L120.0,163.6 L121.0,163.7 L122.0,163.8 L123.0,163.8 L124.0,163.9 L125.0,164.0 L126.0,164.0 L127.0,164.1 L128.0,164.2 L129.0,164.3 L130.0,164.3 L131.0,164.4 L132.0,164.5 L133.0,164.6 L134.0,164.8 L135.0,164.9 L136.0,165.1 L137.0,165.3 L138.0,165.5 L139.0,165.8 L140.0,166.1 L141.0,166.4 L142.0,166.7 L143.0,167.0 L144.0,167.4 L145.0,167.8 L146.0,168.2 L147.0,168.7 L148.0,169.1 L149.0,169.6 L150.0,170.1 L151.0,170.6 L152.0,171.1 L153.0,171.6 L154.0,172.1 L155.0,172.5 L156.0,173.0 L157.0,173.5 L158.0,174.0 L159.0,174.5 L160.0,174.9 L161.0,175.4 L162.0,175.9 L163.0,176.3 L164.0,176.8 L165.0,177.3 L166.0,177.8 L167.0,178.3 L168.0,178.8 L169.0,179.3 L170.0,179.8 L171.0,180.3 L172.0,180.9 L173.0,181.4 L174.0,182.0 L175.0,182.6 L176.0,183.3 L177.0,183.9 L178.0,184.6 L179.0,185.3 L180.0,186.1 L181.0,186.9 L182.0,187.7 L183.0,188.6 L184.0,189.5 L185.0,190.4 L186.0,191.3 L187.0,192.2 L188.0,193.1 L189.0,194.1 L190.0,195.0 L191.0,195.9 L192.0,196.8 L193.0,197.7 L194.0,198.7 L195.0,199.6 L196.0,200.5 L197.0,201.5 L198.0,202.4 L199.0,203.4 L200.0,204.3 L201.0,205.2 L202.0,206.2 L203.0,207.1 L204.0,208.1 L205.0,209.0 L206.0,210.0 L207.0,210.9 L208.0,211.9 L209.0,212.9 L210.0,213.8 L211.0,214.8 L212.0,215.8 L213.0,216.8 L214.0,217.7 L215.0,218.7 L216.0,219.7 L217.0,220.7 L218.0,221.7 L219.0,222.7 L220.0,223.6 L221.0,224.6 L222.0,225.6 L223.0,226.6 L224.0,227.6 L225.0,228.6 L226.0,229.6 L227.0,230.6 L228.0,231.6 L229.0,232.6 L230.0,233.6 L231.0,234.6 L232.0,235.6 L233.0,236.6 L234.0,237.6 L235.0,238.6 L236.0,239.6 L237.0,240.6 L238.0,241.7 L239.0,242.7 L240.0,243.7 L241.0,244.7 L242.0,245.8 L243.0,246.8 L244.0,247.8 L245.0,248.9 L246.0,249.9 L247.0,250.9 L248.0,252.0 L249.0,253.0 L250.0,254.1 L251.0,255.1 L252.0,256.1 L253.0,257.2 L254.0,258.2 L255.0,259.3 L256.0,260.3 L257.0,261.4 L258.0,262.4 L259.0,263.5 L260.0,264.5 L261.0,265.6 L262.0,266.7 L263.0,267.7 L264.0,268.8 L265.0,269.8 L266.0,270.9 L267.0,272.0 L268.0,273.0 L269.0,274.1 L270.0,275.2 L271.0,276.2 L272.0,277.3 L273.0,278.4 L274.0,279.4 L275.0,280.5 L276.0,281.6 L277.0,282.7 L278.0,283.8 L279.0,284.8 L280.0,285.9 L281.0,287.0 L282.0,288.1 L283.0,289.2 L284.0,290.3 L285.0,291.3 L286.0,292.4 L287.0,293.5 L288.0,294.6 L289.0,295.7 L290.0,296.8 L291.0,297.9 L292.0,299.0 L293.0,300.1 L294.0,301.2 L295.0,302.3 L296.0,303.4 L297.0,304.5 L298.0,305.6 L299.0,306.7 L300.0,307.8 L301.0,308.9 L302.0,310.0 L303.0,311.1 L304.0,312.2 L305.0,313.3 L306.0,314.5 L307.0,315.6 L308.0,316.7 L309.0,317.8 L310.0,318.9 L311.0,320.1 L312.0,321.2 L313.0,322.3 L314.0,323.4 L315.0,324.5 L316.0,325.7 L317.0,326.8 L318.0,327.9 L319.0,329.1 L320.0,330.2 L321.0,331.3 L322.0,332.5 L323.0,333.6 L324.0,334.7 L325.0,335.9 L326.0,337.0 L327.0,338.1 L328.0,339.3 L329.0,340.4 L330.0,341.6 L331.0,342.7 L332.0,343.8 L333.0,345.0 L334.0,346.1 L335.0,347.3 L336.0,348.4 L337.0,349.6 L338.0,350.7 L339.0,351.9 L340.0,353.1 L341.0,354.2 L342.0,355.4 L343.0,356.5 L344.0,357.7 L345.0,358.9 L346.0,360.0 L347.0,361.2 L348.0,362.3 L349.0,363.5 L350.0,364.6 L351.0,365.8 L352.0,366.9 L353.0,368.1 L354.0,369.2 L355.0,370.3 L356.0,371.4 L357.0,372.5 L358.0,373.5 L359.0,374.4 L360.0,375.3 L361.0,376.1 L362.0,376.7 L363.0,377.2 L364.0,377.7 L365.0,378.0 L366.0,378.2 L367.0,378.4 L368.0,378.5 L369.0,378.6 L370.0,378.7 L371.0,378.7 L372.0,378.7 L373.0,378.8 L374.0,378.8 L375.0,378.8 L376.0,378.8 L377.0,378.8 L378.0,378.8 L379.0,378.8 L380.0,378.8 L381.0,378.8 L382.0,378.8 L383.0,378.8 L384.0,378.8 L385.0,378.8 L386.0,378.8 L387.0,378.8 L388.0,378.8 L389.0,378.8 L390.0,378.8 L391.0,378.8 L392.0,378.8 L393.0,378.8 L394.0,378.8 L395.0,378.8 L396.0,378.8 L397.0,378.8 L398.0,378.8 L399.0,378.8 L400.0,378.8 L401.0,378.8 L402.0,378.8 L403.0,378.8 L404.0,378.8 L405.0,378.8 L406.0,378.8 L407.0,378.8 L408.0,378.8 L409.0,378.8 L410.0,378.8 L411.0,378.8 L412.0,378.8 L413.0,378.8 L414.0,378.8 L415.0,378.8 L416.0,378.8 L417.0,378.8 L418.0,378.8 L419.0,378.8 L420.0,378.8 L421.0,378.8 L422.0,378.8 L423.0,378.8 L424.0,378.8 L425.0,378.8 L426.0,378.8 L427.0,378.8 L428.0,378.8 L429.0,378.8 L430.0,378.8 L431.0,378.8 L432.0,378.8 L433.0,378.8 L434.0,378.8 L435.0,378.8 L436.0,378.8 L437.0,378.8 L438.0,378.8 L439.0,378.8 L440.0,378.8 L441.0,378.8 L442.0,378.8 L443.0,378.8 L444.0,378.8 L445.0,378.8 L446.0,378.8 L447.0,378.8 L448.0,378.8 L449.0,378.8 L450.0,378.8 L451.0,378.8 L452.0,378.8 L453.0,378.8 L454.0,378.8 L455.0,378.8 L456.0,378.8 L457.0,378.8 L458.0,378.8 L459.0,378.8 L460.0,378.8 L461.0,378.8 L462.0,378.8 L463.0,378.8 L464.0,378.8 L465.0,378.8 L466.0,378.8 L467.0,378.8 L468.0,378.8 L469.0,378.8 L470.0,378.8 L471.0,378.8 L472.0,378.8 L473.0,378.8 L474.0,378.8 L475.0,378.8 L476.0,378.8 L477.0,378.8 L478.0,378.8 L479.0,378.8 L480.0,378.8 L481.0,378.8 L482.0,378.8 L483.0,378.8 L484.0,378.8 L485.0,378.8 L486.0,378.8 L487.0,378.8 L488.0,378.8 L489.0,378.8 L490.0,378.8 L491.0,378.8 L492.0,378.8 L493.0,378.8 L494.0,378.8 L495.0,378.8 L496.0,378.8 L497.0,378.8 L498.0,378.8 L499.0,378.8 L500.0,378.8 L501.0,378.8 L502.0,378.8 L503.0,378.8 L504.0,378.8 L505.0,378.8 L506.0,378.8 L507.0,378.8 L508.0,378.8 L509.0,378.8 L510.0,378.8 L511.0,378.8 L512.0,378.8 L513.0,378.8 L514.0,378.8 L515.0,378.8 L516.0,378.8 L517.0,378.8 L518.0,378.8 L519.0,378.8 L520.0,378.8 L521.0,378.8 L522.0,378.8 L523.0,378.8 L524.0,378.8 L525.0,378.8 L526.0,378.8 L527.0,378.8 L528.0,378.8 L529.0,378.8 L530.0,378.8 L531.0,378.8 L532.0,378.8 L533.0,378.8 L534.0,378.8 L535.0,378.8" stroke="#fd5a00" stroke-opacity="0.63"/>
<path d="M74.0,145.3 L75.0,146.3 L76.0,147.2 L77.0,148.1 L78.0,148.8 L79.0,149.5 L80.0,150.2 L81.0,150.8 L82.0,151.4 L83.0,152.0 L84.0,152.6 L85.0,153.1 L86.0,153.5 L87.0,154.0 L88.0,154.4 L89.0,154.9 L90.0,155.3 L91.0,155.7 L92.0,156.1 L93.0,156.5 L94.0,156.9 L95.0,157.3 L96.0,157.6 L97.0,158.0 L98.0,158.3 L99.0,158.6 L100.0,158.8 L101.0,159.0 L102.0,159.3 L103.0,159.5 L104.0,159.6 L105.0,159.8 L106.0,160.0 L107.0,160.2 L108.0,160.3 L109.0,160.5 L110.0,160.7 L111.0,160.8 L112.0,161.0 L113.0,161.1 L114.0,161.3 L115.0,161.4 L116.0,161.6 L117.0,161.8 L118.0,161.9 L119.0,162.1 L120.0,162.2 L121.0,162.4 L122.0,162.5 L123.0,162.7 L124.0,162.8 L125.0,163.0 L126.0,163.1 L127.0,163.2 L128.0,163.4 L129.0,163.5 L130.0,163.7 L131.0,163.8 L132.0,164.0 L133.0,164.2 L134.0,164.4 L135.0,164.6 L136.0,164.8 L137.0,165.1 L138.0,165.4 L139.0,165.7 L140.0,166.0 L141.0,166.4 L142.0,166.8 L143.0,167.2 L144.0,167.6 L145.0,168.0 L146.0,168.5 L147.0,168.9 L148.0,169.4 L149.0,169.9 L150.0,170.4 L151.0,171.0 L152.0,171.5 L153.0,172.0 L154.0,172.5 L155.0,173.0 L156.0,173.5 L157.0,174.0 L158.0,174.5 L159.0,175.0 L160.0,175.5 L161.0,176.0 L162.0,176.4 L163.0,176.9 L164.0,177.4 L165.0,177.9 L166.0,178.4 L167.0,178.9 L168.0,179.4 L169.0,179.9 L170.0,180.4 L171.0,181.0 L172.0,181.5 L173.0,182.1 L174.0,182.7 L175.0,183.3 L176.0,184.0 L177.0,184.6 L178.0,185.3 L179.0,186.0 L180.0,186.8 L181.0,187.6 L182.0,188.5 L183.0,189.3 L184.0,190.2 L185.0,191.1 L186.0,192.1 L187.0,193.0 L188.0,193.9 L189.0,194.9 L190.0,195.8 L191.0,196.7 L192.0,197.6 L193.0,198.6 L194.0,199.5 L195.0,200.5 L196.0,201.4 L197.0,202.3 L198.0,203.3 L199.0,204.2 L200.0,205.2 L201.0,206.1 L202.0,207.1 L203.0,208.0 L204.0,209.0 L205.0,210.0 L206.0,210.9 L207.0,211.9 L208.0,212.8 L209.0,213.8 L210.0,214.8 L211.0,215.7 L212.0,216.7 L213.0,217.7 L214.0,218.7 L215.0,219.7 L216.0,220.6 L217.0,221.6 L218.0,222.6 L219.0,223.6 L220.0,224.6 L221.0,225.6 L222.0,226.5 L223.0,227.5 L224.0,228.5 L225.0,229.5 L226.0,230.5 L227.0,231.5 L228.0,232.5 L229.0,233.5 L230.0,234.5 L231.0,235.5 L232.0,236.5 L233.0,237.5 L234.0,238.5 L235.0,239.5 L236.0,240.5 L237.0,241.6 L238.0,242.6 L239.0,243.6 L240.0,244.6 L241.0,245.6 L242.0,246.7 L243.0,247.7 L244.0,248.7 L245.0,249.7 L246.0,250.8 L247.0,251.8 L248.0,252.9 L249.0,253.9 L250.0,254.9 L251.0,256.0 L252.0,257.0 L253.0,258.1 L254.0,259.1 L255.0,260.1 L256.0,261.2 L257.0,262.2 L258.0,263.3 L259.0,264.3 L260.0,265.4 L261.0,266.4 L262.0,267.5 L263.0,268.6 L264.0,269.6 L265.0,270.7 L266.0,271.7 L267.0,272.8 L268.0,273.8 L269.0,274.9 L270.0,276.0 L271.0,277.0 L272.0,278.1 L273.0,279.2 L274.0,280.3 L275.0,281.3 L276.0,282.4 L277.0,283.5 L278.0,284.6 L279.0,285.6 L280.0,286.7 L281.0,287.8 L282.0,288.9 L283.0,290.0 L284.0,291.0 L285.0,292.1 L286.0,293.2 L287.0,294.3 L288.0,295.4 L289.0,296.5 L290.0,297.6 L291.0,298.7 L292.0,299.8 L293.0,300.9 L294.0,302.0 L295.0,303.1 L296.0,304.2 L297.0,305.3 L298.0,306.4 L299.0,307.5 L300.0,308.6 L301.0,309.7 L302.0,310.8 L303.0,311.9 L304.0,313.0 L305.0,314.1 L306.0,315.2 L307.0,316.4 L308.0,317.5 L309.0,318.6 L310.0,319.7 L311.0,320.8 L312.0,321.9 L313.0,323.1 L314.0,324.2 L315.0,325.3 L316.0,326.4 L317.0,327.6 L318.0,328.7 L319.0,329.8 L320.0,331.0 L321.0,332.1 L322.0,333.2 L323.0,334.4 L324.0,335.5 L325.0,336.6 L326.0,337.8 L327.0,338.9 L328.0,340.1 L329.0,341.2 L330.0,342.3 L331.0,343.5 L332.0,344.6 L333.0,345.8 L334.0,346.9 L335.0,348.1 L336.0,349.2 L337.0,350.4 L338.0,351.5 L339.0,352.7 L340.0,353.8 L341.0,355.0 L342.0,356.2 L343.0,357.3 L344.0,358.5 L345.0,359.6 L346.0,360.8 L347.0,362.0 L348.0,363.1 L349.0,364.3 L350.0,365.4 L351.0,366.6 L352.0,367.7 L353.0,368.9 L354.0,370.0 L355.0,371.1 L356.0,372.2 L357.0,373.2 L358.0,374.1 L359.0,375.0 L360.0,375.8 L361.0,376.5 L362.0,377.1 L363.0,377.6 L364.0,377.9 L365.0,378.2 L366.0,378.4 L367.0,378.5 L368.0,378.6 L369.0,378.7 L370.0,378.7 L371.0,378.7 L372.0,378.8 L373.0,378.8 L374.0,378.8 L375.0,378.8 L376.0,378.8 L377.0,378.8 L378.0,378.8 L379.0,378.8 L380.0,378.8 L381.0,378.8 L382.0,378.8 L383.0,378.8 L384.0,378.8 L385.0,378.8 L386.0,378.8 L387.0,378.8 L388.0,378.8 L389.0,378.8 L390.0,378.8 L391.0,378.8 L392.0,378.8 L393.0,378.8 L394.0,378.8 L395.0,378.8 L396.0,378.8 L397.0,378.8 L398.0,378.8 L399.0,378.8 L400.0,378.8 L401.0,378.8 L402.0,378.8 L403.0,378.8 L404.0,378.8 L405.0,378.8 L406.0,378.8 L407.0,378.8 L408.0,378.8 L409.0,378.8 L410.0,378.8 L411.0,378.8 L412.0,378.8 L413.0,378.8 L414.0,378.8 L415.0,378.8 L416.0,378.8 L417.0,378.8 L418.0,378.8 L419.0,378.8 L420.0,378.8 L421.0,378.8 L422.0,378.8 L423.0,378.8 L424.0,378.8 L425.0,378.8 L426.0,378.8 L427.0,378.8 L428.0,378.8 L429.0,378.8 L430.0,378.8 L431.0,378.8 L432.0,378.8 L433.0,378.8 L434.0,378.8 L435.0,378.8 L436.0,378.8 L437.0,378.8 L438.0,378.8 L439.0,378.8 L440.0,378.8 L441.0,378.8 L442.0,378.8 L443.0,378.8 L444.0,378.8 L445.0,378.8 L446.0,378.8 L447.0,378.8 L448.0,378.8 L449.0,378.8 L450.0,378.8 L451.0,378.8 L452.0,378.8 L453.0,378.8 L454.0,378.8 L455.0,378.8 L456.0,378.8 L457.0,378.8 L458.0,378.8 L459.0,378.8 L460.0,378.8 L461.0,378.8 L462.0,378.8 L463.0,378.8 L464.0,378.8 L465.0,378.8 L466.0,378.8 L467.0,378.8 L468.0,378.8 L469.0,378.8 L470.0,378.8 L471.0,378.8 L472.0,378.8 L473.0,378.8 L474.0,378.8 L475.0,378.8 L476.0,378.8 L477.0,378.8 L478.0,378.8 L479.0,378.8 L480.0,378.8 L481.0,378.8 L482.0,378.8 L483.0,378.8 L484.0,378.8 L485.0,378.8 L486.0,378.8 L487.0,378.8 L488.0,378.8 L489.0,378.8 L490.0,378.8 L491.0,378.8 L492.0,378.8 L493.0,378.8 L494.0,378.8 L495.0,378.8 L496.0,378.8 L497.0,378.8 L498.0,378.8 L499.0,378.8 L500.0,378.8 L501.0,378.8 L502.0,378.8 L503.0,378.8 L504.0,378.8 L505.0,378.8 L506.0,378.8 L507.0,378.8 L508.0,378.8 L509.0,378.8 L510.0,378.8 L511.0,378.8 L512.0,378.8 L513.0,378.8 L514.0,378.8 L515.0,378.8 L516.0,378.8 L517.0,378.8 L518.0,378.8 L519.0,378.8 L520.0,378.8 L521.0,378.8 L522.0,378.8 L523.0,378.8 L524.0,378.8 L525.0,378.8 L526.0,378.8 L527.0,378.8 L528.0,378.8 L529.0,378.8 L530.0,378.8 L531.0,378.8 L532.0,378.8 L533.0,378.8 L534.0,378.8 L535.0,378.8" stroke="#fd5a00" stroke-opacity="0.72"/>
<path d="M74.0,137.2 L75.0,138.2 L76.0,139.2 L77.0,140.1 L78.0,141.0 L79.0,141.8 L80.0,142.6 L81.0,143.3 L82.0,144.1 L83.0,144.8 L84.0,145.5 L85.0,146.2 L86.0,146.8 L87.0,147.4 L88.0,148.0 L89.0,148.6 L90.0,149.2 L91.0,149.8 L92.0,150.4 L93.0,151.0 L94.0,151.5 L95.0,152.1 L96.0,152.6 L97.0,153.1 L98.0,153.6 L99.0,154.0 L100.0,154.4 L101.0,154.8 L102.0,155.2 L103.0,155.5 L104.0,155.9 L105.0,156.2 L106.0,156.5 L107.0,156.8 L108.0,157.1 L109.0,157.4 L110.0,157.7 L111.0,158.0 L112.0,158.3 L113.0,158.6 L114.0,158.8 L115.0,159.1 L116.0,159.4 L117.0,159.7 L118.0,159.9 L119.0,160.2 L120.0,160.5 L121.0,160.7 L122.0,161.0 L123.0,161.2 L124.0,161.4 L125.0,161.7 L126.0,161.9 L127.0,162.1 L128.0,162.4 L129.0,162.6 L130.0,162.8 L131.0,163.1 L132.0,163.3 L133.0,163.6 L134.0,163.9 L135.0,164.2 L136.0,164.5 L137.0,164.8 L138.0,165.2 L139.0,165.6 L140.0,166.0 L141.0,166.4 L142.0,166.8 L143.0,167.3 L144.0,167.7 L145.0,168.2 L146.0,168.7 L147.0,169.2 L148.0,169.8 L149.0,170.3 L150.0,170.9 L151.0,171.4 L152.0,172.0 L153.0,172.5 L154.0,173.0 L155.0,173.6 L156.0,174.1 L157.0,174.6 L158.0,175.1 L159.0,175.6 L160.0,176.1 L161.0,176.6 L162.0,177.1 L163.0,177.6 L164.0,178.1 L165.0,178.6 L166.0,179.1 L167.0,179.6 L168.0,180.2 L169.0,180.7 L170.0,181.2 L171.0,181.8 L172.0,182.4 L173.0,182.9 L174.0,183.6 L175.0,184.2 L176.0,184.8 L177.0,185.5 L178.0,186.2 L179.0,186.9 L180.0,187.7 L181.0,188.5 L182.0,189.4 L183.0,190.3 L184.0,191.2 L185.0,192.1 L186.0,193.0 L187.0,194.0 L188.0,194.9 L189.0,195.9 L190.0,196.8 L191.0,197.7 L192.0,198.7 L193.0,199.6 L194.0,200.6 L195.0,201.5 L196.0,202.5 L197.0,203.4 L198.0,204.4 L199.0,205.3 L200.0,206.3 L201.0,207.2 L202.0,208.2 L203.0,209.2 L204.0,210.1 L205.0,211.1 L206.0,212.0 L207.0,213.0 L208.0,214.0 L209.0,214.9 L210.0,215.9 L211.0,216.9 L212.0,217.9 L213.0,218.8 L214.0,219.8 L215.0,220.8 L216.0,221.8 L217.0,222.8 L218.0,223.7 L219.0,224.7 L220.0,225.7 L221.0,226.7 L222.0,227.7 L223.0,228.7 L224.0,229.7 L225.0,230.7 L226.0,231.7 L227.0,232.7 L228.0,233.7 L229.0,234.6 L230.0,235.6 L231.0,236.6 L232.0,237.6 L233.0,238.7 L234.0,239.7 L235.0,240.7 L236.0,241.7 L237.0,242.7 L238.0,243.7 L239.0,244.7 L240.0,245.7 L241.0,246.8 L242.0,247.8 L243.0,248.8 L244.0,249.8 L245.0,250.9 L246.0,251.9 L247.0,252.9 L248.0,253.9 L249.0,255.0 L250.0,256.0 L251.0,257.1 L252.0,258.1 L253.0,259.1 L254.0,260.2 L255.0,261.2 L256.0,262.3 L257.0,263.3 L258.0,264.3 L259.0,265.4 L260.0,266.4 L261.0,267.5 L262.0,268.5 L263.0,269.6 L264.0,270.6 L265.0,271.7 L266.0,272.8 L267.0,273.8 L268.0,274.9 L269.0,275.9 L270.0,277.0 L271.0,278.1 L272.0,279.1 L273.0,280.2 L274.0,281.3 L275.0,282.3 L276.0,283.4 L277.0,284.5 L278.0,285.6 L279.0,286.6 L280.0,287.7 L281.0,288.8 L282.0,289.9 L283.0,290.9 L284.0,292.0 L285.0,293.1 L286.0,294.2 L287.0,295.3 L288.0,296.4 L289.0,297.5 L290.0,298.6 L291.0,299.6 L292.0,300.7 L293.0,301.8 L294.0,302.9 L295.0,304.0 L296.0,305.1 L297.0,306.2 L298.0,307.3 L299.0,308.4 L300.0,309.5 L301.0,310.6 L302.0,311.8 L303.0,312.9 L304.0,314.0 L305.0,315.1 L306.0,316.2 L307.0,317.3 L308.0,318.4 L309.0,319.5 L310.0,320.7 L311.0,321.8 L312.0,322.9 L313.0,324.0 L314.0,325.2 L315.0,326.3 L316.0,327.4 L317.0,328.5 L318.0,329.7 L319.0,330.8 L320.0,331.9 L321.0,333.1 L322.0,334.2 L323.0,335.3 L324.0,336.5 L325.0,337.6 L326.0,338.7 L327.0,339.9 L328.0,341.0 L329.0,342.2 L330.0,343.3 L331.0,344.5 L332.0,345.6 L333.0,346.7 L334.0,347.9 L335.0,349.0 L336.0,350.2 L337.0,351.4 L338.0,352.5 L339.0,353.7 L340.0,354.8 L341.0,356.0 L342.0,357.1 L343.0,358.3 L344.0,359.5 L345.0,360.6 L346.0,361.8 L347.0,362.9 L348.0,364.1 L349.0,365.3 L350.0,366.4 L351.0,367.6 L352.0,368.7 L353.0,369.8 L354.0,370.9 L355.0,372.0 L356.0,373.0 L357.0,374.0 L358.0,374.9 L359.0,375.7 L360.0,376.4 L361.0,377.0 L362.0,377.5 L363.0,377.9 L364.0,378.1 L365.0,378.3 L366.0,378.5 L367.0,378.6 L368.0,378.7 L369.0,378.7 L370.0,378.7 L371.0,378.8 L372.0,378.8 L373.0,378.8 L374.0,378.8 L375.0,378.8 L376.0,378.8 L377.0,378.8 L378.0,378.8 L379.0,378.8 L380.0,378.8 L381.0,378.8 L382.0,378.8 L383.0,378.8 L384.0,378.8 L385.0,378.8 L386.0,378.8 L387.0,378.8 L388.0,378.8 L389.0,378.8 L390.0,378.8 L391.0,378.8 L392.0,378.8 L393.0,378.8 L394.0,378.8 L395.0,378.8 L396.0,378.8 L397.0,378.8 L398.0,378.8 L399.0,378.8 L400.0,378.8 L401.0,378.8 L402.0,378.8 L403.0,378.8 L404.0,378.8 L405.0,378.8 L406.0,378.8 L407.0,378.8 L408.0,378.8 L409.0,378.8 L410.0,378.8 L411.0,378.8 L412.0,378.8 L413.0,378.8 L414.0,378.8 L415.0,378.8 L416.0,378.8 L417.0,378.8 L418.0,378.8 L419.0,378.8 L420.0,378.8 L421.0,378.8 L422.0,378.8 L423.0,378.8 L424.0,378.8 L425.0,378.8 L426.0,378.8 L427.0,378.8 L428.0,378.8 L429.0,378.8 L430.0,378.8 L431.0,378.8 L432.0,378.8 L433.0,378.8 L434.0,378.8 L435.0,378.8 L436.0,378.8 L437.0,378.8 L438.0,378.8 L439.0,378.8 L440.0,378.8 L441.0,378.8 L442.0,378.8 L443.0,378.8 L444.0,378.8 L445.0,378.8 L446.0,378.8 L447.0,378.8 L448.0,378.8 L449.0,378.8 L450.0,378.8 L451.0,378.8 L452.0,378.8 L453.0,378.8 L454.0,378.8 L455.0,378.8 L456.0,378.8 L457.0,378.8 L458.0,378.8 L459.0,378.8 L460.0,378.8 L461.0,378.8 L462.0,378.8 L463.0,378.8 L464.0,378.8 L465.0,378.8 L466.0,378.8 L467.0,378.8 L468.0,378.8 L469.0,378.8 L470.0,378.8 L471.0,378.8 L472.0,378.8 L473.0,378.8 L474.0,378.8 L475.0,378.8 L476.0,378.8 L477.0,378.8 L478.0,378.8 L479.0,378.8 L480.0,378.8 L481.0,378.8 L482.0,378.8 L483.0,378.8 L484.0,378.8 L485.0,378.8 L486.0,378.8 L487.0,378.8 L488.0,378.8 L489.0,378.8 L490.0,378.8 L491.0,378.8 L492.0,378.8 L493.0,378.8 L494.0,378.8 L495.0,378.8 L496.0,378.8 L497.0,378.8 L498.0,378.8 L499.0,378.8 L500.0,378.8 L501.0,378.8 L502.0,378.8 L503.0,378.8 L504.0,378.8 L505.0,378.8 L506.0,378.8 L507.0,378.8 L508.0,378.8 L509.0,378.8 L510.0,378.8 L511.0,378.8 L512.0,378.8 L513.0,378.8 L514.0,378.8 L515.0,378.8 L516.0,378.8 L517.0,378.8 L518.0,378.8 L519.0,378.8 L520.0,378.8 L521.0,378.8 L522.0,378.8 L523.0,378.8 L524.0,378.8 L525.0,378.8 L526.0,378.8 L527.0,378.8 L528.0,378.8 L529.0,378.8 L530.0,378.8 L531.0,378.8 L532.0,378.8 L533.0,378.8 L534.0,378.8 L535.0,378.8" stroke="#fc5800" stroke-opacity="0.81"/>
<path d="M74.0,131.2 L75.0,132.3 L76.0,133.3 L77.0,134.3 L78.0,135.2 L79.0,136.1 L80.0,137.0 L81.0,137.9 L82.0,138.8 L83.0,139.6 L84.0,140.4 L85.0,141.2 L86.0,141.9 L87.0,142.7 L88.0,143.4 L89.0,144.1 L90.0,144.8 L91.0,145.6 L92.0,146.3 L93.0,146.9 L94.0,147.6 L95.0,148.3 L96.0,148.9 L97.0,149.5 L98.0,150.1 L99.0,150.7 L100.0,151.2 L101.0,151.7 L102.0,152.1 L103.0,152.6 L104.0,153.0 L105.0,153.4 L106.0,153.9 L107.0,154.3 L108.0,154.6 L109.0,155.0 L110.0,155.4 L111.0,155.8 L112.0,156.1 L113.0,156.5 L114.0,156.8 L115.0,157.2 L116.0,157.5 L117.0,157.9 L118.0,158.2 L119.0,158.5 L120.0,158.9 L121.0,159.2 L122.0,159.5 L123.0,159.8 L124.0,160.1 L125.0,160.4 L126.0,160.7 L127.0,160.9 L128.0,161.2 L129.0,161.5 L130.0,161.8 L131.0,162.1 L132.0,162.4 L133.0,162.7 L134.0,163.1 L135.0,163.4 L136.0,163.8 L137.0,164.2 L138.0,164.6 L139.0,165.0 L140.0,165.4 L141.0,165.9 L142.0,166.3 L143.0,166.8 L144.0,167.3 L145.0,167.9 L146.0,168.4 L147.0,168.9 L148.0,169.5 L149.0,170.1 L150.0,170.6 L151.0,171.2 L152.0,171.8 L153.0,172.4 L154.0,172.9 L155.0,173.5 L156.0,174.0 L157.0,174.6 L158.0,175.1 L159.0,175.6 L160.0,176.2 L161.0,176.7 L162.0,177.2 L163.0,177.7 L164.0,178.2 L165.0,178.8 L166.0,179.3 L167.0,179.8 L168.0,180.4 L169.0,180.9 L170.0,181.5 L171.0,182.1 L172.0,182.7 L173.0,183.3 L174.0,183.9 L175.0,184.6 L176.0,185.2 L177.0,185.9 L178.0,186.7 L179.0,187.4 L180.0,188.2 L181.0,189.0 L182.0,189.9 L183.0,190.8 L184.0,191.7 L185.0,192.7 L186.0,193.6 L187.0,194.6 L188.0,195.5 L189.0,196.5 L190.0,197.4 L191.0,198.3 L192.0,199.3 L193.0,200.2 L194.0,201.2 L195.0,202.1 L196.0,203.1 L197.0,204.1 L198.0,205.0 L199.0,206.0 L200.0,206.9 L201.0,207.9 L202.0,208.9 L203.0,209.8 L204.0,210.8 L205.0,211.8 L206.0,212.7 L207.0,213.7 L208.0,214.7 L209.0,215.6 L210.0,216.6 L211.0,217.6 L212.0,218.6 L213.0,219.5 L214.0,220.5 L215.0,221.5 L216.0,222.5 L217.0,223.4 L218.0,224.4 L219.0,225.4 L220.0,226.4 L221.0,227.4 L222.0,228.4 L223.0,229.4 L224.0,230.4 L225.0,231.4 L226.0,232.3 L227.0,233.3 L228.0,234.3 L229.0,235.3 L230.0,236.3 L231.0,237.3 L232.0,238.3 L233.0,239.3 L234.0,240.3 L235.0,241.4 L236.0,242.4 L237.0,243.4 L238.0,244.4 L239.0,245.4 L240.0,246.4 L241.0,247.4 L242.0,248.5 L243.0,249.5 L244.0,250.5 L245.0,251.5 L246.0,252.5 L247.0,253.6 L248.0,254.6 L249.0,255.6 L250.0,256.7 L251.0,257.7 L252.0,258.7 L253.0,259.8 L254.0,260.8 L255.0,261.8 L256.0,262.9 L257.0,263.9 L258.0,265.0 L259.0,266.0 L260.0,267.1 L261.0,268.1 L262.0,269.2 L263.0,270.2 L264.0,271.3 L265.0,272.3 L266.0,273.4 L267.0,274.4 L268.0,275.5 L269.0,276.5 L270.0,277.6 L271.0,278.7 L272.0,279.7 L273.0,280.8 L274.0,281.9 L275.0,282.9 L276.0,284.0 L277.0,285.1 L278.0,286.1 L279.0,287.2 L280.0,288.3 L281.0,289.4 L282.0,290.5 L283.0,291.5 L284.0,292.6 L285.0,293.7 L286.0,294.8 L287.0,295.9 L288.0,297.0 L289.0,298.0 L290.0,299.1 L291.0,300.2 L292.0,301.3 L293.0,302.4 L294.0,303.5 L295.0,304.6 L296.0,305.7 L297.0,306.8 L298.0,307.9 L299.0,309.0 L300.0,310.1 L301.0,311.2 L302.0,312.3 L303.0,313.4 L304.0,314.5 L305.0,315.7 L306.0,316.8 L307.0,317.9 L308.0,319.0 L309.0,320.1 L310.0,321.2 L311.0,322.4 L312.0,323.5 L313.0,324.6 L314.0,325.7 L315.0,326.9 L316.0,328.0 L317.0,329.1 L318.0,330.2 L319.0,331.4 L320.0,332.5 L321.0,333.6 L322.0,334.8 L323.0,335.9 L324.0,337.0 L325.0,338.2 L326.0,339.3 L327.0,340.5 L328.0,341.6 L329.0,342.7 L330.0,343.9 L331.0,345.0 L332.0,346.2 L333.0,347.3 L334.0,348.5 L335.0,349.6 L336.0,350.8 L337.0,351.9 L338.0,353.1 L339.0,354.2 L340.0,355.4 L341.0,356.6 L342.0,357.7 L343.0,358.9 L344.0,360.0 L345.0,361.2 L346.0,362.4 L347.0,363.5 L348.0,364.7 L349.0,365.9 L350.0,367.0 L351.0,368.2 L352.0,369.3 L353.0,370.4 L354.0,371.5 L355.0,372.6 L356.0,373.6 L357.0,374.5 L358.0,375.4 L359.0,376.1 L360.0,376.8 L361.0,377.3 L362.0,377.7 L363.0,378.0 L364.0,378.3 L365.0,378.4 L366.0,378.5 L367.0,378.6 L368.0,378.7 L369.0,378.7 L370.0,378.7 L371.0,378.8 L372.0,378.8 L373.0,378.8 L374.0,378.8 L375.0,378.8 L376.0,378.8 L377.0,378.8 L378.0,378.8 L379.0,378.8 L380.0,378.8 L381.0,378.8 L382.0,378.8 L383.0,378.8 L384.0,378.8 L385.0,378.8 L386.0,378.8 L387.0,378.8 L388.0,378.8 L389.0,378.8 L390.0,378.8 L391.0,378.8 L392.0,378.8 L393.0,378.8 L394.0,378.8 L395.0,378.8 L396.0,378.8 L397.0,378.8 L398.0,378.8 L399.0,378.8 L400.0,378.8 L401.0,378.8 L402.0,378.8 L403.0,378.8 L404.0,378.8 L405.0,378.8 L406.0,378.8 L407.0,378.8 L408.0,378.8 L409.0,378.8 L410.0,378.8 L411.0,378.8 L412.0,378.8 L413.0,378.8 L414.0,378.8 L415.0,378.8 L416.0,378.8 L417.0,378.8 L418.0,378.8 L419.0,378.8 L420.0,378.8 L421.0,378.8 L422.0,378.8 L423.0,378.8 L424.0,378.8 L425.0,378.8 L426.0,378.8 L427.0,378.8 L428.0,378.8 L429.0,378.8 L430.0,378.8 L431.0,378.8 L432.0,378.8 L433.0,378.8 L434.0,378.8 L435.0,378.8 L436.0,378.8 L437.0,378.8 L438.0,378.8 L439.0,378.8 L440.0,378.8 L441.0,378.8 L442.0,378.8 L443.0,378.8 L444.0,378.8 L445.0,378.8 L446.0,378.8 L447.0,378.8 L448.0,378.8 L449.0,378.8 L450.0,378.8 L451.0,378.8 L452.0,378.8 L453.0,378.8 L454.0,378.8 L455.0,378.8 L456.0,378.8 L457.0,378.8 L458.0,378.8 L459.0,378.8 L460.0,378.8 L461.0,378.8 L462.0,378.8 L463.0,378.8 L464.0,378.8 L465.0,378.8 L466.0,378.8 L467.0,378.8 L468.0,378.8 L469.0,378.8 L470.0,378.8 L471.0,378.8 L472.0,378.8 L473.0,378.8 L474.0,378.8 L475.0,378.8 L476.0,378.8 L477.0,378.8 L478.0,378.8 L479.0,378.8 L480.0,378.8 L481.0,378.8 L482.0,378.8 L483.0,378.8 L484.0,378.8 L485.0,378.8 L486.0,378.8 L487.0,378.8 L488.0,378.8 L489.0,378.8 L490.0,378.8 L491.0,378.8 L492.0,378.8 L493.0,378.8 L494.0,378.8 L495.0,378.8 L496.0,378.8 L497.0,378.8 L498.0,378.8 L499.0,378.8 L500.0,378.8 L501.0,378.8 L502.0,378.8 L503.0,378.8 L504.0,378.8 L505.0,378.8 L506.0,378.8 L507.0,378.8 L508.0,378.8 L509.0,378.8 L510.0,378.8 L511.0,378.8 L512.0,378.8 L513.0,378.8 L514.0,378.8 L515.0,378.8 L516.0,378.8 L517.0,378.8 L518.0,378.8 L519.0,378.8 L520.0,378.8 L521.0,378.8 L522.0,378.8 L523.0,378.8 L524.0,378.8 L525.0,378.8 L526.0,378.8 L527.0,378.8 L528.0,378.8 L529.0,378.8 L530.0,378.8 L531.0,378.8 L532.0,378.8 L533.0,378.8 L534.0,378.8 L535.0,378.8" stroke="#f85602" stroke-opacity="0.90" stroke-width="4"/>
<path d="M74.0,125.5 L75.0,126.6 L76.0,127.7 L77.0,128.8 L78.0,129.8 L79.0,130.8 L80.0,131.8 L81.0,132.8 L82.0,133.7 L83.0,134.6 L84.0,135.6 L85.0,136.4 L86.0,137.3 L87.0,138.2 L88.0,139.0 L89.0,139.8 L90.0,140.7 L91.0,141.5 L92.0,142.3 L93.0,143.1 L94.0,143.8 L95.0,144.6 L96.0,145.3 L97.0,146.0 L98.0,146.7 L99.0,147.4 L100.0,148.0 L101.0,148.6 L102.0,149.1 L103.0,149.6 L104.0,150.2 L105.0,150.7 L106.0,151.1 L107.0,151.6 L108.0,152.1 L109.0,152.5 L110.0,153.0 L111.0,153.4 L112.0,153.8 L113.0,154.2 L114.0,154.6 L115.0,155.0 L116.0,155.4 L117.0,155.8 L118.0,156.2 L119.0,156.6 L120.0,157.0 L121.0,157.4 L122.0,157.7 L123.0,158.1 L124.0,158.4 L125.0,158.8 L126.0,159.1 L127.0,159.4 L128.0,159.7 L129.0,160.1 L130.0,160.4 L131.0,160.7 L132.0,161.1 L133.0,161.4 L134.0,161.8 L135.0,162.2 L136.0,162.6 L137.0,163.0 L138.0,163.4 L139.0,163.9 L140.0,164.3 L141.0,164.8 L142.0,165.3 L143.0,165.9 L144.0,166.4 L145.0,166.9 L146.0,167.5 L147.0,168.0 L148.0,168.6 L149.0,169.2 L150.0,169.8 L151.0,170.4 L152.0,171.0 L153.0,171.6 L154.0,172.2 L155.0,172.7 L156.0,173.3 L157.0,173.9 L158.0,174.5 L159.0,175.0 L160.0,175.6 L161.0,176.2 L162.0,176.7 L163.0,177.3 L164.0,177.9 L165.0,178.5 L166.0,179.0 L167.0,179.6 L168.0,180.2 L169.0,180.8 L170.0,181.4 L171.0,182.1 L172.0,182.7 L173.0,183.4 L174.0,184.0 L175.0,184.7 L176.0,185.4 L177.0,186.1 L178.0,186.9 L179.0,187.7 L180.0,188.5 L181.0,189.4 L182.0,190.3 L183.0,191.2 L184.0,192.1 L185.0,193.1 L186.0,194.0 L187.0,195.0 L188.0,195.9 L189.0,196.9 L190.0,197.8 L191.0,198.8 L192.0,199.7 L193.0,200.7 L194.0,201.6 L195.0,202.6 L196.0,203.5 L197.0,204.5 L198.0,205.5 L199.0,206.4 L200.0,207.4 L201.0,208.4 L202.0,209.3 L203.0,210.3 L204.0,211.3 L205.0,212.2 L206.0,213.2 L207.0,214.2 L208.0,215.1 L209.0,216.1 L210.0,217.1 L211.0,218.1 L212.0,219.0 L213.0,220.0 L214.0,221.0 L215.0,222.0 L216.0,222.9 L217.0,223.9 L218.0,224.9 L219.0,225.9 L220.0,226.9 L221.0,227.9 L222.0,228.9 L223.0,229.9 L224.0,230.8 L225.0,231.8 L226.0,232.8 L227.0,233.8 L228.0,234.8 L229.0,235.8 L230.0,236.8 L231.0,237.8 L232.0,238.8 L233.0,239.8 L234.0,240.8 L235.0,241.8 L236.0,242.8 L237.0,243.9 L238.0,244.9 L239.0,245.9 L240.0,246.9 L241.0,247.9 L242.0,248.9 L243.0,249.9 L244.0,251.0 L245.0,252.0 L246.0,253.0 L247.0,254.0 L248.0,255.1 L249.0,256.1 L250.0,257.1 L251.0,258.2 L252.0,259.2 L253.0,260.2 L254.0,261.3 L255.0,262.3 L256.0,263.3 L257.0,264.4 L258.0,265.4 L259.0,266.5 L260.0,267.5 L261.0,268.6 L262.0,269.6 L263.0,270.6 L264.0,271.7 L265.0,272.8 L266.0,273.8 L267.0,274.9 L268.0,275.9 L269.0,277.0 L270.0,278.0 L271.0,279.1 L272.0,280.2 L273.0,281.2 L274.0,282.3 L275.0,283.4 L276.0,284.4 L277.0,285.5 L278.0,286.6 L279.0,287.6 L280.0,288.7 L281.0,289.8 L282.0,290.9 L283.0,291.9 L284.0,293.0 L285.0,294.1 L286.0,295.2 L287.0,296.3 L288.0,297.4 L289.0,298.5 L290.0,299.5 L291.0,300.6 L292.0,301.7 L293.0,302.8 L294.0,303.9 L295.0,305.0 L296.0,306.1 L297.0,307.2 L298.0,308.3 L299.0,309.4 L300.0,310.5 L301.0,311.6 L302.0,312.7 L303.0,313.8 L304.0,315.0 L305.0,316.1 L306.0,317.2 L307.0,318.3 L308.0,319.4 L309.0,320.5 L310.0,321.7 L311.0,322.8 L312.0,323.9 L313.0,325.0 L314.0,326.1 L315.0,327.3 L316.0,328.4 L317.0,329.5 L318.0,330.7 L319.0,331.8 L320.0,332.9 L321.0,334.1 L322.0,335.2 L323.0,336.3 L324.0,337.5 L325.0,338.6 L326.0,339.7 L327.0,340.9 L328.0,342.0 L329.0,343.2 L330.0,344.3 L331.0,345.4 L332.0,346.6 L333.0,347.7 L334.0,348.9 L335.0,350.0 L336.0,351.2 L337.0,352.3 L338.0,353.5 L339.0,354.7 L340.0,355.8 L341.0,357.0 L342.0,358.1 L343.0,359.3 L344.0,360.5 L345.0,361.6 L346.0,362.8 L347.0,364.0 L348.0,365.1 L349.0,366.3 L350.0,367.4 L351.0,368.6 L352.0,369.7 L353.0,370.8 L354.0,371.9 L355.0,372.9 L356.0,373.9 L357.0,374.8 L358.0,375.6 L359.0,376.4 L360.0,377.0 L361.0,377.5 L362.0,377.8 L363.0,378.1 L364.0,378.3 L365.0,378.5 L366.0,378.6 L367.0,378.6 L368.0,378.7 L369.0,378.7 L370.0,378.8 L371.0,378.8 L372.0,378.8 L373.0,378.8 L374.0,378.8 L375.0,378.8 L376.0,378.8 L377.0,378.8 L378.0,378.8 L379.0,378.8 L380.0,378.8 L381.0,378.8 L382.0,378.8 L383.0,378.8 L384.0,378.8 L385.0,378.8 L386.0,378.8 L387.0,378.8 L388.0,378.8 L389.0,378.8 L390.0,378.8 L391.0,378.8 L392.0,378.8 L393.0,378.8 L394.0,378.8 L395.0,378.8 L396.0,378.8 L397.0,378.8 L398.0,378.8 L399.0,378.8 L400.0,378.8 L401.0,378.8 L402.0,378.8 L403.0,378.8 L404.0,378.8 L405.0,378.8 L406.0,378.8 L407.0,378.8 L408.0,378.8 L409.0,378.8 L410.0,378.8 L411.0,378.8 L412.0,378.8 L413.0,378.8 L414.0,378.8 L415.0,378.8 L416.0,378.8 L417.0,378.8 L418.0,378.8 L419.0,378.8 L420.0,378.8 L421.0,378.8 L422.0,378.8 L423.0,378.8 L424.0,378.8 L425.0,378.8 L426.0,378.8 L427.0,378.8 L428.0,378.8 L429.0,378.8 L430.0,378.8 L431.0,378.8 L432.0,378.8 L433.0,378.8 L434.0,378.8 L435.0,378.8 L436.0,378.8 L437.0,378.8 L438.0,378.8 L439.0,378.8 L440.0,378.8 L441.0,378.8 L442.0,378.8 L443.0,378.8 L444.0,378.8 L445.0,378.8 L446.0,378.8 L447.0,378.8 L448.0,378.8 L449.0,378.8 L450.0,378.8 L451.0,378.8 L452.0,378.8 L453.0,378.8 L454.0,378.8 L455.0,378.8 L456.0,378.8 L457.0,378.8 L458.0,378.8 L459.0,378.8 L460.0,378.8 L461.0,378.8 L462.0,378.8 L463.0,378.8 L464.0,378.8 L465.0,378.8 L466.0,378.8 L467.0,378.8 L468.0,378.8 L469.0,378.8 L470.0,378.8 L471.0,378.8 L472.0,378.8 L473.0,378.8 L474.0,378.8 L475.0,378.8 L476.0,378.8 L477.0,378.8 L478.0,378.8 L479.0,378.8 L480.0,378.8 L481.0,378.8 L482.0,378.8 L483.0,378.8 L484.0,378.8 L485.0,378.8 L486.0,378.8 L487.0,378.8 L488.0,378.8 L489.0,378.8 L490.0,378.8 L491.0,378.8 L492.0,378.8 L493.0,378.8 L494.0,378.8 L495.0,378.8 L496.0,378.8 L497.0,378.8 L498.0,378.8 L499.0,378.8 L500.0,378.8 L501.0,378.8 L502.0,378.8 L503.0,378.8 L504.0,378.8 L505.0,378.8 L506.0,378.8 L507.0,378.8 L508.0,378.8 L509.0,378.8 L510.0,378.8 L511.0,378.8 L512.0,378.8 L513.0,378.8 L514.0,378.8 L515.0,378.8 L516.0,378.8 L517.0,378.8 L518.0,378.8 L519.0,378.8 L520.0,378.8 L521.0,378.8 L522.0,378.8 L523.0,378.8 L524.0,378.8 L525.0,378.8 L526.0,378.8 L527.0,378.8 L528.0,378.8 L529.0,378.8 L530.0,378.8 L531.0,378.8 L532.0,378.8 L533.0,378.8 L534.0,378.8 L535.0,378.8" stroke="#f05205" stroke-opacity="0.96" stroke-width="4"/>
<path d="M74.0,120.8 L75.0,121.9 L76.0,123.0 L77.0,124.1 L78.0,125.2 L79.0,126.3 L80.0,127.4 L81.0,128.4 L82.0,129.4 L83.0,130.4 L84.0,131.4 L85.0,132.3 L86.0,133.3 L87.0,134.2 L88.0,135.1 L89.0,136.0 L90.0,136.9 L91.0,137.8 L92.0,138.7 L93.0,139.5 L94.0,140.4 L95.0,141.2 L96.0,142.0 L97.0,142.8 L98.0,143.5 L99.0,144.2 L100.0,144.9 L101.0,145.5 L102.0,146.1 L103.0,146.7 L104.0,147.3 L105.0,147.8 L106.0,148.4 L107.0,148.9 L108.0,149.4 L109.0,149.9 L110.0,150.4 L111.0,150.9 L112.0,151.3 L113.0,151.8 L114.0,152.2 L115.0,152.7 L116.0,153.1 L117.0,153.6 L118.0,154.0 L119.0,154.4 L120.0,154.8 L121.0,155.2 L122.0,155.6 L123.0,156.0 L124.0,156.4 L125.0,156.7 L126.0,157.1 L127.0,157.4 L128.0,157.8 L129.0,158.1 L130.0,158.5 L131.0,158.8 L132.0,159.2 L133.0,159.6 L134.0,160.0 L135.0,160.4 L136.0,160.8 L137.0,161.2 L138.0,161.7 L139.0,162.2 L140.0,162.7 L141.0,163.2 L142.0,163.7 L143.0,164.2 L144.0,164.7 L145.0,165.3 L146.0,165.9 L147.0,166.4 L148.0,167.0 L149.0,167.6 L150.0,168.2 L151.0,168.8 L152.0,169.4 L153.0,170.1 L154.0,170.7 L155.0,171.3 L156.0,171.9 L157.0,172.5 L158.0,173.2 L159.0,173.8 L160.0,174.4 L161.0,175.1 L162.0,175.7 L163.0,176.3 L164.0,177.0 L165.0,177.6 L166.0,178.2 L167.0,178.9 L168.0,179.6 L169.0,180.2 L170.0,180.9 L171.0,181.6 L172.0,182.3 L173.0,183.1 L174.0,183.8 L175.0,184.5 L176.0,185.3 L177.0,186.1 L178.0,186.9 L179.0,187.7 L180.0,188.6 L181.0,189.5 L182.0,190.4 L183.0,191.3 L184.0,192.3 L185.0,193.2 L186.0,194.2 L187.0,195.1 L188.0,196.1 L189.0,197.1 L190.0,198.0 L191.0,198.9 L192.0,199.9 L193.0,200.8 L194.0,201.8 L195.0,202.8 L196.0,203.7 L197.0,204.7 L198.0,205.7 L199.0,206.6 L200.0,207.6 L201.0,208.6 L202.0,209.5 L203.0,210.5 L204.0,211.5 L205.0,212.4 L206.0,213.4 L207.0,214.4 L208.0,215.4 L209.0,216.3 L210.0,217.3 L211.0,218.3 L212.0,219.2 L213.0,220.2 L214.0,221.2 L215.0,222.2 L216.0,223.2 L217.0,224.1 L218.0,225.1 L219.0,226.1 L220.0,227.1 L221.0,228.1 L222.0,229.1 L223.0,230.1 L224.0,231.1 L225.0,232.1 L226.0,233.0 L227.0,234.0 L228.0,235.0 L229.0,236.0 L230.0,237.0 L231.0,238.0 L232.0,239.0 L233.0,240.0 L234.0,241.0 L235.0,242.0 L236.0,243.1 L237.0,244.1 L238.0,245.1 L239.0,246.1 L240.0,247.1 L241.0,248.1 L242.0,249.1 L243.0,250.2 L244.0,251.2 L245.0,252.2 L246.0,253.2 L247.0,254.2 L248.0,255.3 L249.0,256.3 L250.0,257.3 L251.0,258.4 L252.0,259.4 L253.0,260.4 L254.0,261.5 L255.0,262.5 L256.0,263.5 L257.0,264.6 L258.0,265.6 L259.0,266.7 L260.0,267.7 L261.0,268.7 L262.0,269.8 L263.0,270.8 L264.0,271.9 L265.0,272.9 L266.0,274.0 L267.0,275.1 L268.0,276.1 L269.0,277.2 L270.0,278.2 L271.0,279.3 L272.0,280.3 L273.0,281.4 L274.0,282.5 L275.0,283.5 L276.0,284.6 L277.0,285.7 L278.0,286.8 L279.0,287.8 L280.0,288.9 L281.0,290.0 L282.0,291.1 L283.0,292.1 L284.0,293.2 L285.0,294.3 L286.0,295.4 L287.0,296.5 L288.0,297.5 L289.0,298.6 L290.0,299.7 L291.0,300.8 L292.0,301.9 L293.0,303.0 L294.0,304.1 L295.0,305.2 L296.0,306.3 L297.0,307.4 L298.0,308.5 L299.0,309.6 L300.0,310.7 L301.0,311.8 L302.0,312.9 L303.0,314.0 L304.0,315.1 L305.0,316.2 L306.0,317.4 L307.0,318.5 L308.0,319.6 L309.0,320.7 L310.0,321.8 L311.0,323.0 L312.0,324.1 L313.0,325.2 L314.0,326.3 L315.0,327.5 L316.0,328.6 L317.0,329.7 L318.0,330.8 L319.0,332.0 L320.0,333.1 L321.0,334.2 L322.0,335.4 L323.0,336.5 L324.0,337.6 L325.0,338.8 L326.0,339.9 L327.0,341.1 L328.0,342.2 L329.0,343.3 L330.0,344.5 L331.0,345.6 L332.0,346.8 L333.0,347.9 L334.0,349.1 L335.0,350.2 L336.0,351.4 L337.0,352.5 L338.0,353.7 L339.0,354.8 L340.0,356.0 L341.0,357.2 L342.0,358.3 L343.0,359.5 L344.0,360.6 L345.0,361.8 L346.0,363.0 L347.0,364.1 L348.0,365.3 L349.0,366.5 L350.0,367.6 L351.0,368.7 L352.0,369.9 L353.0,371.0 L354.0,372.1 L355.0,373.1 L356.0,374.1 L357.0,375.0 L358.0,375.8 L359.0,376.5 L360.0,377.1 L361.0,377.5 L362.0,377.9 L363.0,378.2 L364.0,378.4 L365.0,378.5 L366.0,378.6 L367.0,378.7 L368.0,378.7 L369.0,378.7 L370.0,378.8 L371.0,378.8 L372.0,378.8 L373.0,378.8 L374.0,378.8 L375.0,378.8 L376.0,378.8 L377.0,378.8 L378.0,378.8 L379.0,378.8 L380.0,378.8 L381.0,378.8 L382.0,378.8 L383.0,378.8 L384.0,378.8 L385.0,378.8 L386.0,378.8 L387.0,378.8 L388.0,378.8 L389.0,378.8 L390.0,378.8 L391.0,378.8 L392.0,378.8 L393.0,378.8 L394.0,378.8 L395.0,378.8 L396.0,378.8 L397.0,378.8 L398.0,378.8 L399.0,378.8 L400.0,378.8 L401.0,378.8 L402.0,378.8 L403.0,378.8 L404.0,378.8 L405.0,378.8 L406.0,378.8 L407.0,378.8 L408.0,378.8 L409.0,378.8 L410.0,378.8 L411.0,378.8 L412.0,378.8 L413.0,378.8 L414.0,378.8 L415.0,378.8 L416.0,378.8 L417.0,378.8 L418.0,378.8 L419.0,378.8 L420.0,378.8 L421.0,378.8 L422.0,378.8 L423.0,378.8 L424.0,378.8 L425.0,378.8 L426.0,378.8 L427.0,378.8 L428.0,378.8 L429.0,378.8 L430.0,378.8 L431.0,378.8 L432.0,378.8 L433.0,378.8 L434.0,378.8 L435.0,378.8 L436.0,378.8 L437.0,378.8 L438.0,378.8 L439.0,378.8 L440.0,378.8 L441.0,378.8 L442.0,378.8 L443.0,378.8 L444.0,378.8 L445.0,378.8 L446.0,378.8 L447.0,378.8 L448.0,378.8 L449.0,378.8 L450.0,378.8 L451.0,378.8 L452.0,378.8 L453.0,378.8 L454.0,378.8 L455.0,378.8 L456.0,378.8 L457.0,378.8 L458.0,378.8 L459.0,378.8 L460.0,378.8 L461.0,378.8 L462.0,378.8 L463.0,378.8 L464.0,378.8 L465.0,378.8 L466.0,378.8 L467.0,378.8 L468.0,378.8 L469.0,378.8 L470.0,378.8 L471.0,378.8 L472.0,378.8 L473.0,378.8 L474.0,378.8 L475.0,378.8 L476.0,378.8 L477.0,378.8 L478.0,378.8 L479.0,378.8 L480.0,378.8 L481.0,378.8 L482.0,378.8 L483.0,378.8 L484.0,378.8 L485.0,378.8 L486.0,378.8 L487.0,378.8 L488.0,378.8 L489.0,378.8 L490.0,378.8 L491.0,378.8 L492.0,378.8 L493.0,378.8 L494.0,378.8 L495.0,378.8 L496.0,378.8 L497.0,378.8 L498.0,378.8 L499.0,378.8 L500.0,378.8 L501.0,378.8 L502.0,378.8 L503.0,378.8 L504.0,378.8 L505.0,378.8 L506.0,378.8 L507.0,378.8 L508.0,378.8 L509.0,378.8 L510.0,378.8 L511.0,378.8 L512.0,378.8 L513.0,378.8 L514.0,378.8 L515.0,378.8 L516.0,378.8 L517.0,378.8 L518.0,378.8 L519.0,378.8 L520.0,378.8 L521.0,378.8 L522.0,378.8 L523.0,378.8 L524.0,378.8 L525.0,378.8 L526.0,378.8 L527.0,378.8 L528.0,378.8 L529.0,378.8 L530.0,378.8 L531.0,378.8 L532.0,378.8 L533.0,378.8 L534.0,378.8 L535.0,378.8" stroke="#e24b08" stroke-opacity="1.00" stroke-width="4"/>
<path d="M74.0,73.6 L75.0,75.0 L76.0,76.4 L77.0,77.7 L78.0,78.9 L79.0,80.0 L80.0,80.9 L81.0,81.8 L82.0,82.5 L83.0,83.4 L84.0,84.4 L85.0,85.8 L86.0,87.4 L87.0,89.0 L88.0,90.4 L89.0,91.4 L90.0,92.3 L91.0,93.0 L92.0,93.8 L93.0,94.8 L94.0,96.0 L95.0,97.3 L96.0,98.7 L97.0,100.1 L98.0,101.3 L99.0,102.3 L100.0,103.2 L101.0,104.1 L102.0,104.9 L103.0,105.9 L104.0,107.0 L105.0,108.1 L106.0,109.4 L107.0,110.6 L108.0,111.9 L109.0,113.1 L110.0,114.3 L111.0,115.4 L112.0,116.6 L113.0,117.7 L114.0,118.8 L115.0,119.9 L116.0,121.0 L117.0,122.1 L118.0,123.1 L119.0,124.2 L120.0,125.3 L121.0,126.4 L122.0,127.5 L123.0,128.6 L124.0,129.7 L125.0,130.8 L126.0,131.9 L127.0,133.1 L128.0,134.2 L129.0,135.3 L130.0,136.5 L131.0,137.7 L132.0,138.8 L133.0,140.0 L134.0,141.1 L135.0,142.3 L136.0,143.5 L137.0,144.6 L138.0,145.8 L139.0,147.0 L140.0,148.2 L141.0,149.3 L142.0,150.5 L143.0,151.7 L144.0,152.9 L145.0,154.0 L146.0,155.2 L147.0,156.4 L148.0,157.6 L149.0,158.7 L150.0,159.9 L151.0,161.1 L152.0,162.3 L153.0,163.4 L154.0,164.6 L155.0,165.8 L156.0,166.9 L157.0,168.1 L158.0,169.2 L159.0,170.4 L160.0,171.5 L161.0,172.7 L162.0,173.8 L163.0,175.0 L164.0,176.1 L165.0,177.3 L166.0,178.4 L167.0,179.5 L168.0,180.7 L169.0,181.8 L170.0,183.0 L171.0,184.1 L172.0,185.2 L173.0,186.4 L174.0,187.5 L175.0,188.7 L176.0,189.8 L177.0,190.9 L178.0,192.1 L179.0,193.2 L180.0,194.3 L181.0,195.5 L182.0,196.6 L183.0,197.7 L184.0,198.9 L185.0,200.0 L186.0,201.1 L187.0,202.3 L188.0,203.4 L189.0,204.5 L190.0,205.7 L191.0,206.8 L192.0,207.9 L193.0,209.1 L194.0,210.2 L195.0,211.3 L196.0,212.5 L197.0,213.6 L198.0,214.7 L199.0,215.9 L200.0,217.0 L201.0,218.1 L202.0,219.3 L203.0,220.4 L204.0,221.5 L205.0,222.7 L206.0,223.8 L207.0,225.0 L208.0,226.1 L209.0,227.2 L210.0,228.4 L211.0,229.5 L212.0,230.6 L213.0,231.8 L214.0,232.9 L215.0,234.0 L216.0,235.2 L217.0,236.3 L218.0,237.4 L219.0,238.6 L220.0,239.7 L221.0,240.9 L222.0,242.0 L223.0,243.1 L224.0,244.3 L225.0,245.4 L226.0,246.5 L227.0,247.7 L228.0,248.8 L229.0,249.9 L230.0,251.1 L231.0,252.2 L232.0,253.3 L233.0,254.5 L234.0,255.6 L235.0,256.8 L236.0,257.9 L237.0,259.0 L238.0,260.2 L239.0,261.3 L240.0,262.4 L241.0,263.6 L242.0,264.7 L243.0,265.8 L244.0,267.0 L245.0,268.1 L246.0,269.2 L247.0,270.4 L248.0,271.5 L249.0,272.6 L250.0,273.8 L251.0,274.9 L252.0,276.0 L253.0,277.2 L254.0,278.3 L255.0,279.4 L256.0,280.6 L257.0,281.7 L258.0,282.8 L259.0,284.0 L260.0,285.1 L261.0,286.2 L262.0,287.4 L263.0,288.5 L264.0,289.6 L265.0,290.8 L266.0,291.9 L267.0,293.0 L268.0,294.2 L269.0,295.3 L270.0,296.5 L271.0,297.6 L272.0,298.7 L273.0,299.9 L274.0,301.0 L275.0,302.2 L276.0,303.3 L277.0,304.4 L278.0,305.6 L279.0,306.7 L280.0,307.9 L281.0,309.0 L282.0,310.2 L283.0,311.3 L284.0,312.4 L285.0,313.6 L286.0,314.7 L287.0,315.9 L288.0,317.0 L289.0,318.1 L290.0,319.3 L291.0,320.4 L292.0,321.6 L293.0,322.7 L294.0,323.8 L295.0,325.0 L296.0,326.1 L297.0,327.2 L298.0,328.4 L299.0,329.5 L300.0,330.6 L301.0,331.8 L302.0,332.9 L303.0,334.0 L304.0,335.2 L305.0,336.3 L306.0,337.4 L307.0,338.5 L308.0,339.7 L309.0,340.8 L310.0,341.9 L311.0,343.0 L312.0,344.1 L313.0,345.2 L314.0,346.4 L315.0,347.5 L316.0,348.6 L317.0,349.7 L318.0,350.8 L319.0,351.9 L320.0,353.0 L321.0,354.1 L322.0,355.2 L323.0,356.3 L324.0,357.4 L325.0,358.5 L326.0,359.5 L327.0,360.6 L328.0,361.7 L329.0,362.8 L330.0,363.8 L331.0,364.9 L332.0,366.0 L333.0,367.0 L334.0,368.1 L335.0,369.1 L336.0,370.1 L337.0,371.1 L338.0,372.1 L339.0,373.1 L340.0,374.0 L341.0,374.8 L342.0,375.6 L343.0,376.3 L344.0,376.8 L345.0,377.3 L346.0,377.7 L347.0,378.0 L348.0,378.2 L349.0,378.4 L350.0,378.5 L351.0,378.6 L352.0,378.7 L353.0,378.7 L354.0,378.7 L355.0,378.8 L356.0,378.8 L357.0,378.8 L358.0,378.8 L359.0,378.8 L360.0,378.8 L361.0,378.8 L362.0,378.8 L363.0,378.8 L364.0,378.8 L365.0,378.8 L366.0,378.8 L367.0,378.8 L368.0,378.8 L369.0,378.8 L370.0,378.8 L371.0,378.8 L372.0,378.8 L373.0,378.8 L374.0,378.8 L375.0,378.8 L376.0,378.8 L377.0,378.8 L378.0,378.8 L379.0,378.8 L380.0,378.8 L381.0,378.8 L382.0,378.8 L383.0,378.8 L384.0,378.8 L385.0,378.8 L386.0,378.8 L387.0,378.8 L388.0,378.8 L389.0,378.8 L390.0,378.8 L391.0,378.8 L392.0,378.8 L393.0,378.8 L394.0,378.8 L395.0,378.8 L396.0,378.8 L397.0,378.8 L398.0,378.8 L399.0,378.8 L400.0,378.8 L401.0,378.8 L402.0,378.8 L403.0,378.8 L404.0,378.8 L405.0,378.8 L406.0,378.8 L407.0,378.8 L408.0,378.8 L409.0,378.8 L410.0,378.8 L411.0,378.8 L412.0,378.8 L413.0,378.8 L414.0,378.8 L415.0,378.8 L416.0,378.8 L417.0,378.8 L418.0,378.8 L419.0,378.8 L420.0,378.8 L421.0,378.8 L422.0,378.8 L423.0,378.8 L424.0,378.8 L425.0,378.8 L426.0,378.8 L427.0,378.8 L428.0,378.8 L429.0,378.8 L430.0,378.8 L431.0,378.8 L432.0,378.8 L433.0,378.8 L434.0,378.8 L435.0,378.8 L436.0,378.8 L437.0,378.8 L438.0,378.8 L439.0,378.8 L440.0,378.8 L441.0,378.8 L442.0,378.8 L443.0,378.8 L444.0,378.8 L445.0,378.8 L446.0,378.8 L447.0,378.8 L448.0,378.8 L449.0,378.8 L450.0,378.8 L451.0,378.8 L452.0,378.8 L453.0,378.8 L454.0,378.8 L455.0,378.8 L456.0,378.8 L457.0,378.8 L458.0,378.8 L459.0,378.8 L460.0,378.8 L461.0,378.8 L462.0,378.8 L463.0,378.8 L464.0,378.8 L465.0,378.8 L466.0,378.8 L467.0,378.8 L468.0,378.8 L469.0,378.8 L470.0,378.8 L471.0,378.8 L472.0,378.8 L473.0,378.8 L474.0,378.8 L475.0,378.8 L476.0,378.8 L477.0,378.8 L478.0,378.8 L479.0,378.8 L480.0,378.8 L481.0,378.8 L482.0,378.8 L483.0,378.8 L484.0,378.8 L485.0,378.8 L486.0,378.8 L487.0,378.8 L488.0,378.8 L489.0,378.8 L490.0,378.8 L491.0,378.8 L492.0,378.8 L493.0,378.8 L494.0,378.8 L495.0,378.8 L496.0,378.8 L497.0,378.8 L498.0,378.8 L499.0,378.8 L500.0,378.8 L501.0,378.8 L502.0,378.8 L503.0,378.8 L504.0,378.8 L505.0,378.8 L506.0,378.8 L507.0,378.8 L508.0,378.8 L509.0,378.8 L510.0,378.8 L511.0,378.8 L512.0,378.8 L513.0,378.8 L514.0,378.8 L515.0,378.8 L516.0,378.8 L517.0,378.8 L518.0,378.8 L519.0,378.8 L520.0,378.8 L521.0,378.8 L522.0,378.8 L523.0,378.8 L524.0,378.8 L525.0,378.8 L526.0,378.8 L527.0,378.8 L528.0,378.8 L529.0,378.8 L530.0,378.8 L531.0,378.8 L532.0,378.8 L533.0,378.8 L534.0,378.8 L535.0,378.8" stroke="#c8470c" stroke-width="3.5"/>
</g>
<g stroke="#000" fill="none">
<rect x="74.0" y="7.8" width="461.0" height="371.0" stroke-width="3"/>
<path d="M74.0,378.5h10.5 M74.0,343.1h6 M74.0,307.8h10.5 M74.0,272.4h6 M74.0,237.1h10.5 M74.0,201.8h6 M74.0,166.4h10.5 M74.0,131.1h6 M74.0,95.7h10.5 M74.0,60.3h6 M74.0,25.0h10.5 M74.0,378.8v-10.5 M120.0,378.8v-6 M166.1,378.8v-10.5 M212.1,378.8v-6 M258.2,378.8v-10.5 M304.2,378.8v-6 M350.3,378.8v-10.5 M396.3,378.8v-6 M442.4,378.8v-10.5 M488.4,378.8v-6 M534.5,378.8v-10.5" stroke-width="2.6"/>
</g>
<g font-family="'Liberation Serif', serif" font-weight="bold" font-size="21.5" fill="#000">
<text x="63.2" y="385.7" text-anchor="end">0.0</text>
<text x="63.2" y="315.0" text-anchor="end">0.2</text>
<text x="63.2" y="244.3" text-anchor="end">0.4</text>
<text x="63.2" y="173.6" text-anchor="end">0.6</text>
<text x="63.2" y="102.9" text-anchor="end">0.8</text>
<text x="63.2" y="32.2" text-anchor="end">1.0</text>
<text x="74.0" y="402.8" text-anchor="middle">0</text>
<text x="166.1" y="402.8" text-anchor="middle">2</text>
<text x="258.2" y="402.8" text-anchor="middle">4</text>
<text x="350.3" y="402.8" text-anchor="middle">6</text>
<text x="442.4" y="402.8" text-anchor="middle">8</text>
<text x="534.5" y="402.8" text-anchor="middle">10</text>
</g>
<text font-family="'Liberation Serif', serif" font-weight="bold" font-size="26" x="246" y="426" textLength="131.5" lengthAdjust="spacingAndGlyphs">Depth (µm)</text>
<text font-family="'Liberation Serif', serif" font-weight="bold" font-size="25.5" transform="translate(24.6,311.3) rotate(-90)" textLength="263.5" lengthAdjust="spacingAndGlyphs">Electric Field (MV/cm)</text>
<text font-family="'Liberation Serif', serif" font-weight="bold" font-size="22" x="89.3" y="76.5">SBD</text>
<text font-family="'Liberation Serif', serif" font-weight="bold" font-size="21.2" x="83.3" y="235.2">S=2 – 4µm</text>
<text font-family="'Liberation Serif', serif" font-weight="bold" font-size="21.2" x="83.3" y="261.7">Step=0.2µm</text>
<path d="M96.4,214.3V128" stroke="#000" stroke-width="2.8" fill="none"/>
<path d="M96.4,114.3L102.7,132 90.5,132Z" fill="#000"/>
<rect x="306.3" y="17.2" width="221.90000000000003" height="178.0" fill="#fff" stroke="#000" stroke-width="3.4"/>
<path d="M316.5,195.2v-6 M326.6,195.2v-4.6 M336.7,195.2v-4.6 M346.9,195.2v-4.6 M357.0,195.2v-4.6 M367.1,195.2v-6 M377.2,195.2v-4.6 M387.3,195.2v-4.6 M397.5,195.2v-4.6 M407.6,195.2v-4.6 M417.7,195.2v-6 M427.8,195.2v-4.6 M437.9,195.2v-4.6 M448.1,195.2v-4.6 M458.2,195.2v-4.6 M468.3,195.2v-6 M478.4,195.2v-4.6 M488.5,195.2v-4.6 M498.7,195.2v-4.6 M508.8,195.2v-4.6 M518.9,195.2v-6 M306.3,171.3h6.8 M306.3,130.8h6.8 M306.3,96.5h6.8 M306.3,66.8h6.8 M306.3,40.6h6.8 M306.3,150.1h5.2 M306.3,113.0h5.2 M306.3,81.2h5.2 M306.3,53.3h5.2 M306.3,28.6h5.2" stroke="#000" stroke-width="2.7" fill="none"/>
<g font-family="'Liberation Serif', serif" font-weight="bold" font-size="13.2" fill="#000">
<text x="300.8" y="21.6" text-anchor="end">1</text>
<text x="300.8" y="45.0" text-anchor="end">0.9</text>
<text x="300.8" y="71.2" text-anchor="end">0.8</text>
<text x="300.8" y="100.9" text-anchor="end">0.7</text>
<text x="300.8" y="135.2" text-anchor="end">0.6</text>
<text x="300.8" y="175.7" text-anchor="end">0.5</text>
<text x="316.5" y="209" text-anchor="middle">2</text>
<text x="367.1" y="209" text-anchor="middle">3</text>
<text x="417.7" y="209" text-anchor="middle">4</text>
<text x="468.3" y="209" text-anchor="middle">5</text>
<text x="518.9" y="209" text-anchor="middle">6</text>
</g>
<text font-family="'Liberation Serif', serif" font-weight="bold" font-size="17" x="421.3" y="225.2" text-anchor="middle">S (µm)</text>
<g fill="#ff0505">
<rect x="313.0" y="175.2" width="7" height="7"/>
<rect x="323.1" y="157.8" width="7" height="7"/>
<rect x="333.2" y="143.8" width="7" height="7"/>
<rect x="343.4" y="131.8" width="7" height="7"/>
<rect x="353.5" y="122.2" width="7" height="7"/>
<rect x="363.6" y="112.9" width="7" height="7"/>
<rect x="373.7" y="107.4" width="7" height="7"/>
<rect x="383.8" y="99.8" width="7" height="7"/>
<rect x="394.0" y="94.3" width="7" height="7"/>
<rect x="404.1" y="89.2" width="7" height="7"/>
<rect x="414.2" y="85.1" width="7" height="7"/>
<rect x="515.4" y="46.6" width="7" height="7"/>
<rect x="329.6" y="26.6" width="7" height="7"/>
</g>
<rect x="319.6" y="24.3" width="179.8" height="12.7" fill="none" stroke="#b4b4b4" stroke-width="0.8"/>
<text font-family="'Liberation Serif', serif" font-weight="bold" font-size="10.3" x="347" y="34">Surface Electric Field Vbias=250V</text>
<text font-family="'Liberation Serif', serif" font-weight="bold" font-size="10.6" x="503.3" y="68.2">SBD</text>
</svg>
</body></html>
